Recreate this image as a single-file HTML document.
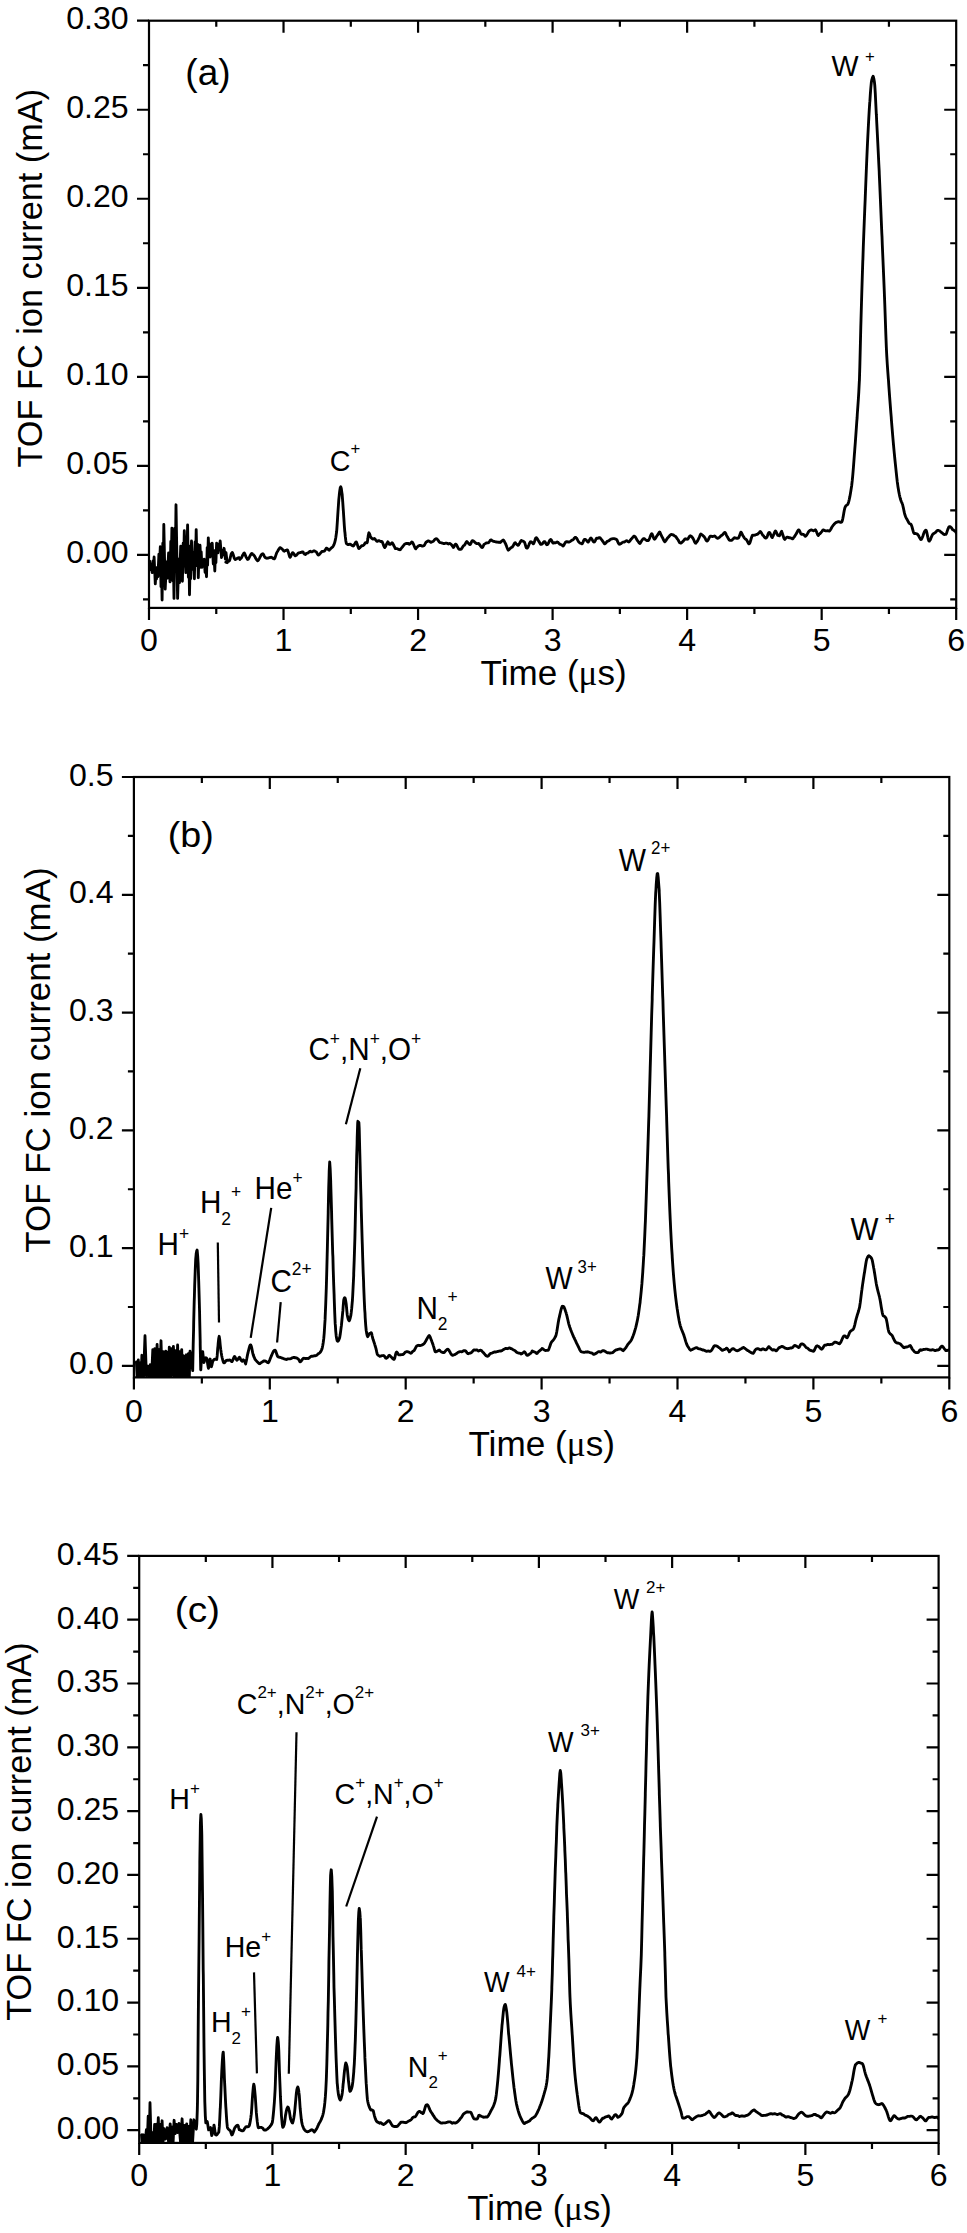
<!DOCTYPE html>
<html lang="en"><head><meta charset="utf-8"><title>TOF FC ion current</title>
<style>html,body{margin:0;padding:0;background:#fff;overflow:hidden}svg{display:block}text{white-space:pre}</style>
</head><body>
<svg width="967" height="2233" viewBox="0 0 967 2233" font-family='"Liberation Sans", sans-serif' fill="#000">
<rect width="967" height="2233" fill="#fff"/>
<g id="panel-a">
<rect x="149.00" y="20.70" width="807.20" height="587.20" fill="none" stroke="#000" stroke-width="2.20"/>
<path d="M149.00,607.90 v12.00 M216.27,607.90 v6.00 M216.27,20.70 v6.00 M283.53,607.90 v12.00 M283.53,20.70 v12.00 M350.80,607.90 v6.00 M350.80,20.70 v6.00 M418.07,607.90 v12.00 M418.07,20.70 v12.00 M485.33,607.90 v6.00 M485.33,20.70 v6.00 M552.60,607.90 v12.00 M552.60,20.70 v12.00 M619.87,607.90 v6.00 M619.87,20.70 v6.00 M687.13,607.90 v12.00 M687.13,20.70 v12.00 M754.40,607.90 v6.00 M754.40,20.70 v6.00 M821.67,607.90 v12.00 M821.67,20.70 v12.00 M888.93,607.90 v6.00 M888.93,20.70 v6.00 M956.20,607.90 v12.00 M149.00,599.36 h-6.00 M956.20,599.36 h-6.00 M149.00,554.85 h-12.00 M956.20,554.85 h-12.00 M149.00,510.34 h-6.00 M956.20,510.34 h-6.00 M149.00,465.83 h-12.00 M956.20,465.83 h-12.00 M149.00,421.31 h-6.00 M956.20,421.31 h-6.00 M149.00,376.80 h-12.00 M956.20,376.80 h-12.00 M149.00,332.29 h-6.00 M956.20,332.29 h-6.00 M149.00,287.78 h-12.00 M956.20,287.78 h-12.00 M149.00,243.26 h-6.00 M956.20,243.26 h-6.00 M149.00,198.75 h-12.00 M956.20,198.75 h-12.00 M149.00,154.24 h-6.00 M956.20,154.24 h-6.00 M149.00,109.73 h-12.00 M956.20,109.73 h-12.00 M149.00,65.21 h-6.00 M956.20,65.21 h-6.00 M149.00,20.70 h-12.00" stroke="#000" stroke-width="2.20" fill="none"/>
<text transform="translate(128.7,563.4) scale(1.010,1)" font-size="31.8px" text-anchor="end">0.00</text>
<text transform="translate(128.7,474.3) scale(1.010,1)" font-size="31.8px" text-anchor="end">0.05</text>
<text transform="translate(128.7,385.3) scale(1.010,1)" font-size="31.8px" text-anchor="end">0.10</text>
<text transform="translate(128.7,296.3) scale(1.010,1)" font-size="31.8px" text-anchor="end">0.15</text>
<text transform="translate(128.7,207.2) scale(1.010,1)" font-size="31.8px" text-anchor="end">0.20</text>
<text transform="translate(128.7,118.2) scale(1.010,1)" font-size="31.8px" text-anchor="end">0.25</text>
<text transform="translate(128.7,29.2) scale(1.010,1)" font-size="31.8px" text-anchor="end">0.30</text>
<text transform="translate(149.0,651.2) scale(1.010,1)" font-size="31.8px" text-anchor="middle">0</text>
<text transform="translate(283.5,651.2) scale(1.010,1)" font-size="31.8px" text-anchor="middle">1</text>
<text transform="translate(418.1,651.2) scale(1.010,1)" font-size="31.8px" text-anchor="middle">2</text>
<text transform="translate(552.6,651.2) scale(1.010,1)" font-size="31.8px" text-anchor="middle">3</text>
<text transform="translate(687.1,651.2) scale(1.010,1)" font-size="31.8px" text-anchor="middle">4</text>
<text transform="translate(821.7,651.2) scale(1.010,1)" font-size="31.8px" text-anchor="middle">5</text>
<text transform="translate(956.2,651.2) scale(1.010,1)" font-size="31.8px" text-anchor="middle">6</text>
<text transform="translate(553.6,684.5) scale(1.0044,1)" font-size="34.9px" text-anchor="middle">Time (<tspan font-family="'Liberation Serif', 'DejaVu Serif', serif">μ</tspan>s)</text>
<text transform="translate(42.2,467.6) rotate(-90)" font-size="35.5px" text-anchor="start" textLength="378.8" lengthAdjust="spacingAndGlyphs">TOF FC ion current (mA)</text>
<clipPath id="clipa"><rect x="149.00" y="20.70" width="807.20" height="587.20"/></clipPath>
<path clip-path="url(#clipa)" d="M149.7,561.2 L150.7,569.7 L151.3,564.6 L152.2,572.6 L153.0,560.9 L153.4,567.9 L154.1,557.0 L155.3,583.9 L156.1,571.5 L156.5,579.0 L157.2,567.4 L157.9,576.7 L158.9,554.2 L159.4,567.7 L160.3,546.7 L161.0,586.6 L161.4,562.7 L162.1,600.0 L162.8,543.3 L163.2,577.3 L163.8,524.5 L165.2,589.1 L166.5,562.0 L167.3,578.2 L168.6,552.9 L170.0,581.9 L170.8,541.5 L171.2,565.7 L171.9,528.1 L172.7,580.8 L173.2,549.2 L174.0,598.4 L174.8,528.2 L175.2,570.3 L176.0,504.8 L177.6,598.4 L178.8,559.2 L179.5,582.7 L180.7,546.2 L181.4,572.6 L181.8,556.7 L182.4,581.3 L183.2,543.3 L183.6,566.1 L184.3,530.7 L185.8,572.6 L186.6,536.9 L186.9,558.3 L187.6,525.0 L188.4,577.3 L188.8,545.9 L189.5,594.8 L190.3,554.5 L190.7,578.7 L191.5,541.0 L192.7,569.3 L193.3,552.3 L194.4,578.8 L195.1,541.9 L195.5,564.0 L196.2,529.6 L197.0,565.7 L197.5,544.1 L198.3,577.7 L199.0,553.3 L199.3,568.0 L200.0,545.2 L200.8,561.8 L201.2,551.8 L201.9,567.4 L202.8,561.2 L203.3,564.9 L204.2,559.1 L205.1,572.3 L205.6,564.4 L206.5,576.7 L207.2,547.6 L207.6,565.1 L208.3,537.9 L209.0,552.3 L209.4,543.7 L210.1,557.0 L211.0,546.6 L211.4,552.9 L212.2,543.1 L213.3,564.0 L213.8,551.5 L214.8,571.0 L215.5,550.1 L215.9,562.6 L216.6,543.1 L217.9,552.9 L218.8,544.0 L219.3,549.3 L220.2,541.0 L221.5,557.6 L222.6,550.6 L223.1,554.8 L224.1,548.3 L225.4,559.1 L226.0,552.6 L227.2,562.7 L225.8,562.2 L226.3,561.9 L226.8,561.6 L227.3,561.2 L227.8,561.1 L228.3,561.0 L228.8,561.1 L228.9,561.2 L229.3,561.1 L229.8,559.8 L230.3,557.7 L230.8,555.5 L231.3,553.7 L231.8,552.9 L232.0,552.7 L232.3,552.5 L232.8,553.5 L233.3,555.0 L233.8,556.7 L234.3,558.3 L234.8,559.1 L235.1,559.4 L235.3,559.5 L235.8,559.4 L236.3,559.1 L236.8,558.7 L237.3,558.3 L237.8,558.0 L238.3,557.8 L238.8,557.7 L239.3,557.7 L239.3,557.6 L239.8,559.5 L240.0,559.4 L240.3,558.8 L240.8,558.5 L241.3,558.0 L241.8,557.1 L242.3,556.0 L242.8,555.0 L243.3,554.1 L243.8,553.2 L244.1,552.9 L244.3,552.9 L244.8,553.9 L245.3,555.1 L245.8,556.4 L246.3,557.5 L246.8,558.2 L247.2,558.7 L247.3,559.3 L247.8,559.5 L248.3,559.1 L248.8,558.4 L249.3,557.4 L249.8,556.4 L250.3,555.4 L250.8,554.5 L251.3,553.8 L251.8,553.5 L252.3,553.8 L252.4,554.2 L252.8,554.4 L253.3,554.7 L253.8,555.1 L254.3,555.8 L254.8,556.6 L255.3,557.5 L255.8,558.5 L256.3,559.3 L256.8,560.1 L257.3,560.6 L257.6,560.8 L257.8,560.8 L258.3,560.3 L258.8,559.5 L259.3,558.6 L259.8,557.6 L260.3,556.6 L260.8,555.7 L261.3,554.8 L261.8,554.2 L262.3,553.9 L262.8,553.8 L262.8,553.8 L263.3,554.1 L263.8,555.0 L264.3,556.1 L264.8,557.1 L265.3,557.7 L265.8,557.6 L265.9,557.9 L266.3,558.1 L266.8,558.3 L267.3,558.2 L267.8,558.1 L268.3,558.0 L268.8,557.8 L269.3,557.7 L269.8,557.6 L270.3,557.4 L270.8,557.3 L271.0,557.2 L271.3,557.3 L271.8,557.5 L272.3,557.8 L272.8,558.2 L273.3,558.6 L273.8,558.8 L274.1,558.8 L274.3,558.8 L274.8,558.1 L275.3,556.9 L275.8,555.4 L276.3,553.9 L276.8,552.6 L277.2,551.9 L277.3,551.7 L277.8,550.9 L278.3,550.0 L278.8,549.2 L279.3,548.5 L279.8,547.8 L280.3,547.6 L280.3,547.7 L280.8,548.0 L281.3,548.4 L281.8,548.8 L282.3,549.3 L282.8,549.8 L283.3,550.4 L283.8,551.0 L284.3,551.2 L284.5,551.1 L284.8,550.8 L285.3,550.6 L285.8,550.4 L286.3,550.2 L286.8,550.0 L287.3,549.9 L287.6,550.1 L287.8,550.7 L288.3,552.1 L288.8,553.9 L289.3,555.7 L289.8,557.0 L290.1,557.3 L290.3,557.1 L290.8,556.2 L291.3,555.0 L291.8,553.9 L292.3,553.0 L292.7,552.6 L292.8,552.6 L293.3,553.0 L293.8,553.8 L294.3,554.7 L294.8,555.4 L295.3,555.8 L295.4,555.8 L295.8,555.6 L296.3,555.3 L296.8,554.7 L297.3,554.2 L297.8,553.6 L298.3,553.1 L298.8,552.9 L298.9,552.8 L299.3,552.8 L299.8,552.7 L300.3,552.6 L300.8,552.5 L301.3,552.2 L301.8,552.0 L302.3,551.8 L302.8,551.8 L303.1,552.1 L303.3,552.6 L303.8,553.3 L304.3,553.9 L304.8,554.3 L305.3,554.5 L305.8,554.2 L306.2,553.7 L306.3,553.4 L306.8,553.3 L307.3,553.2 L307.8,553.1 L308.3,552.8 L308.8,552.3 L309.3,551.8 L309.8,551.4 L310.3,551.3 L310.3,551.6 L310.8,551.8 L311.3,551.9 L311.8,551.9 L312.3,551.7 L312.8,551.4 L313.3,551.1 L313.8,550.9 L314.3,550.9 L314.8,551.1 L315.3,551.4 L315.5,551.6 L315.8,551.6 L316.3,551.9 L316.8,552.8 L317.3,553.7 L317.8,554.5 L318.2,554.8 L318.3,555.0 L318.8,554.9 L319.3,554.5 L319.8,553.9 L320.3,553.3 L320.8,552.7 L321.3,552.2 L321.7,551.9 L321.8,551.6 L322.3,551.4 L322.8,551.3 L323.3,551.3 L323.8,551.3 L324.3,551.1 L324.8,550.7 L324.8,550.5 L325.3,549.9 L325.8,549.0 L326.3,548.2 L326.8,548.1 L326.9,548.3 L327.3,548.5 L327.8,549.0 L328.3,549.6 L328.8,550.1 L329.3,550.2 L329.3,549.8 L329.8,549.5 L330.3,549.1 L330.8,548.6 L331.3,548.1 L331.8,547.6 L332.0,547.5 L332.3,547.2 L332.8,546.7 L333.3,545.9 L333.8,545.0 L334.3,543.7 L334.7,542.6 L334.8,542.2 L335.3,540.2 L335.8,537.5 L336.3,534.0 L336.6,532.0 L336.8,529.6 L337.3,522.4 L337.8,514.3 L338.0,511.4 L338.3,507.0 L338.8,499.7 L339.3,494.8 L339.3,494.4 L339.8,490.4 L340.3,487.5 L340.7,487.1 L340.8,486.8 L341.3,488.5 L341.8,492.1 L342.2,494.8 L342.3,496.3 L342.8,502.8 L343.3,510.2 L343.4,511.4 L343.8,517.7 L344.3,525.5 L344.8,531.8 L344.9,532.0 L345.3,536.5 L345.8,540.7 L346.3,543.2 L346.5,543.6 L346.8,543.9 L347.3,544.2 L347.8,544.5 L348.3,544.6 L348.8,544.5 L349.3,544.4 L349.6,544.3 L349.8,544.1 L350.3,544.1 L350.8,544.4 L351.3,544.9 L351.8,545.3 L352.3,545.4 L352.7,545.5 L352.8,545.9 L353.3,546.0 L353.8,545.5 L354.3,544.7 L354.8,543.7 L355.3,542.9 L355.8,542.2 L356.2,541.9 L356.3,541.9 L356.8,543.0 L357.3,544.4 L357.8,546.1 L358.3,547.5 L358.8,548.5 L358.9,548.5 L359.3,548.2 L359.8,547.8 L360.3,547.2 L360.8,546.7 L361.3,546.1 L361.8,545.7 L362.0,545.7 L362.3,545.8 L362.8,545.7 L363.3,545.4 L363.8,545.0 L364.3,544.3 L364.8,543.6 L365.1,543.0 L365.3,542.7 L365.8,542.7 L366.3,542.8 L366.8,542.9 L367.2,542.5 L367.3,542.2 L367.8,539.1 L368.3,535.2 L368.8,533.0 L368.9,532.8 L369.3,533.3 L369.8,534.6 L370.3,536.0 L370.8,537.3 L371.3,537.8 L371.3,537.9 L371.8,538.3 L372.3,538.8 L372.8,539.1 L373.3,539.0 L373.8,538.8 L374.3,538.6 L374.4,538.4 L374.8,538.8 L375.3,539.4 L375.8,540.1 L376.3,540.7 L376.8,541.2 L377.3,541.4 L377.5,541.2 L377.8,540.9 L378.3,540.6 L378.8,540.6 L379.3,540.8 L379.8,541.1 L380.3,541.4 L380.8,541.5 L381.3,541.5 L381.7,541.4 L381.8,541.4 L382.3,542.0 L382.8,543.2 L383.3,544.5 L383.8,545.9 L384.3,547.0 L384.8,547.6 L384.8,547.5 L385.3,546.8 L385.8,545.8 L386.3,544.7 L386.8,543.6 L387.3,542.7 L387.8,542.1 L387.9,541.8 L388.3,542.3 L388.8,543.4 L389.3,544.3 L389.8,544.4 L389.9,544.3 L390.3,544.4 L390.8,544.1 L391.3,543.5 L391.8,542.9 L392.0,542.8 L392.3,542.9 L392.8,543.6 L393.3,544.5 L393.8,545.5 L394.3,546.5 L394.8,547.4 L395.1,548.1 L395.3,548.5 L395.8,548.6 L396.3,548.6 L396.8,548.6 L397.3,548.8 L397.8,549.0 L398.3,549.3 L398.8,549.4 L399.3,549.6 L399.8,549.8 L400.3,549.7 L400.3,549.4 L400.8,548.9 L401.3,548.3 L401.8,547.7 L402.3,547.1 L402.8,546.5 L403.3,545.8 L403.8,545.2 L404.3,544.6 L404.8,544.1 L405.3,543.8 L405.5,543.6 L405.8,543.6 L406.3,543.5 L406.8,543.5 L407.3,543.4 L407.8,543.4 L408.3,543.5 L408.6,543.7 L408.8,544.1 L409.3,544.2 L409.8,543.9 L410.3,543.4 L410.8,542.9 L411.3,542.4 L411.7,542.1 L411.8,541.9 L412.3,542.2 L412.8,542.9 L413.3,543.9 L413.8,545.0 L414.3,546.2 L414.8,547.4 L415.3,548.4 L415.8,548.8 L415.8,548.5 L416.3,548.0 L416.8,547.4 L417.3,546.9 L417.8,546.4 L418.3,546.0 L418.8,545.7 L419.3,545.5 L419.8,545.4 L419.9,545.4 L420.3,545.4 L420.8,545.5 L421.3,545.8 L421.8,546.0 L422.3,546.1 L422.8,546.0 L423.0,545.9 L423.3,545.9 L423.8,545.7 L424.3,545.2 L424.8,544.4 L425.3,543.4 L425.8,542.6 L426.3,541.9 L426.8,541.6 L427.2,541.5 L427.3,541.3 L427.8,541.1 L428.3,540.9 L428.8,541.0 L429.3,541.2 L429.8,541.6 L430.3,542.0 L430.8,542.3 L431.3,542.3 L431.3,542.1 L431.8,541.9 L432.3,541.7 L432.8,541.5 L433.3,541.2 L433.8,540.7 L434.3,540.1 L434.8,539.6 L435.3,539.1 L435.8,538.8 L436.3,538.7 L436.5,538.8 L436.8,538.9 L437.3,539.3 L437.8,539.9 L438.3,540.6 L438.8,541.4 L439.3,542.0 L439.8,542.5 L440.0,542.5 L440.3,542.6 L440.8,542.7 L441.3,542.8 L441.8,543.0 L442.3,543.1 L442.8,543.3 L443.3,543.4 L443.8,543.6 L444.1,543.6 L444.3,543.6 L444.8,543.5 L445.3,543.3 L445.8,543.1 L446.3,543.1 L446.8,543.2 L447.3,543.4 L447.8,543.8 L448.3,544.0 L448.3,543.9 L448.8,543.7 L449.3,543.6 L449.8,543.5 L450.3,543.8 L450.8,544.2 L451.3,544.6 L451.4,544.7 L451.8,545.2 L452.3,545.9 L452.8,546.6 L453.3,547.2 L453.4,547.5 L453.8,547.1 L454.3,546.0 L454.8,544.9 L455.3,544.3 L455.5,544.2 L455.8,544.1 L456.3,544.5 L456.8,545.3 L457.3,546.3 L457.8,547.4 L458.3,548.3 L458.8,549.0 L459.3,549.3 L459.6,549.3 L459.8,549.4 L460.3,549.4 L460.8,549.3 L461.3,549.0 L461.8,548.4 L462.3,547.6 L462.8,546.8 L463.3,546.0 L463.8,545.5 L463.8,545.5 L464.3,545.3 L464.8,544.7 L465.3,543.8 L465.8,542.9 L466.3,542.0 L466.8,541.5 L466.9,541.6 L467.3,542.0 L467.8,542.6 L468.3,543.2 L468.8,543.8 L469.3,544.3 L469.8,544.6 L470.0,544.6 L470.3,544.4 L470.8,543.6 L471.3,542.4 L471.8,541.3 L472.3,540.6 L472.7,540.6 L472.8,540.9 L473.3,541.0 L473.8,541.3 L474.3,541.7 L474.8,542.2 L475.3,542.7 L475.8,543.1 L476.2,543.3 L476.3,543.4 L476.8,543.6 L477.3,543.6 L477.8,543.6 L478.3,543.5 L478.8,543.6 L479.3,544.1 L479.3,544.6 L479.8,545.1 L480.3,545.6 L480.8,546.3 L481.3,546.9 L481.8,547.4 L482.3,547.5 L482.4,547.4 L482.8,547.0 L483.3,545.9 L483.8,544.7 L484.3,544.1 L484.5,544.1 L484.8,543.9 L485.3,543.6 L485.8,543.3 L486.3,543.0 L486.8,542.9 L487.3,542.9 L487.8,542.9 L488.3,542.7 L488.6,542.6 L488.8,542.3 L489.3,541.7 L489.8,541.0 L490.3,540.2 L490.8,539.9 L491.3,540.0 L491.3,540.3 L491.8,540.5 L492.3,540.8 L492.8,541.1 L493.3,541.3 L493.8,541.4 L494.3,541.5 L494.8,541.6 L494.8,541.6 L495.3,541.8 L495.8,541.9 L496.3,542.0 L496.8,542.0 L497.3,542.1 L497.8,542.2 L498.3,542.2 L498.8,542.2 L499.3,542.2 L499.8,542.3 L500.0,542.5 L500.3,542.5 L500.8,542.1 L501.3,541.6 L501.8,541.0 L502.3,540.6 L502.8,540.3 L503.1,540.2 L503.3,540.0 L503.8,540.5 L504.3,541.3 L504.8,542.3 L505.3,543.3 L505.8,544.2 L505.8,544.4 L506.3,545.6 L506.8,547.0 L507.3,548.3 L507.8,549.5 L508.3,550.2 L508.3,550.1 L508.8,549.8 L509.3,549.4 L509.8,548.8 L510.3,548.3 L510.8,547.9 L511.3,547.5 L511.8,547.1 L512.3,546.8 L512.4,546.9 L512.8,546.4 L513.3,545.5 L513.8,544.5 L514.3,543.6 L514.8,542.9 L515.3,542.7 L515.5,543.1 L515.8,543.6 L516.3,544.0 L516.8,544.5 L517.3,544.9 L517.8,545.2 L518.3,545.2 L518.6,544.9 L518.8,544.4 L519.3,543.7 L519.8,542.9 L520.3,541.9 L520.8,541.1 L521.3,540.5 L521.7,540.6 L521.8,540.9 L522.3,541.0 L522.8,541.1 L523.3,541.3 L523.8,541.6 L524.3,542.0 L524.4,542.1 L524.8,543.0 L525.3,544.6 L525.8,546.4 L526.3,547.8 L526.8,548.1 L526.9,548.1 L527.3,548.0 L527.8,547.4 L528.3,546.3 L528.8,545.1 L529.3,543.8 L529.8,542.7 L530.3,541.9 L530.8,541.7 L531.0,541.8 L531.3,541.9 L531.8,542.2 L532.3,542.8 L532.8,543.4 L533.3,543.8 L533.5,543.8 L533.8,543.3 L534.3,542.1 L534.8,540.6 L535.3,539.0 L535.8,537.9 L536.2,537.7 L536.3,537.7 L536.8,538.1 L537.3,538.8 L537.8,539.7 L538.3,540.6 L538.8,541.4 L538.9,541.3 L539.3,542.0 L539.8,543.0 L540.3,543.9 L540.8,544.4 L541.3,544.4 L541.3,544.3 L541.8,544.2 L542.3,543.9 L542.8,543.2 L543.3,542.4 L543.8,541.8 L544.3,541.6 L544.4,541.6 L544.8,541.7 L545.3,542.4 L545.8,543.3 L546.3,544.2 L546.8,544.7 L547.1,544.6 L547.3,544.6 L547.8,544.3 L548.3,543.4 L548.8,542.3 L549.3,541.2 L549.8,540.3 L550.3,539.8 L550.7,539.6 L550.8,539.4 L551.3,539.9 L551.8,540.9 L552.3,542.0 L552.8,542.9 L553.3,543.1 L553.3,542.9 L553.8,542.8 L554.3,542.7 L554.8,542.7 L555.3,542.7 L555.8,542.7 L556.3,542.5 L556.8,542.3 L556.9,542.1 L557.3,542.0 L557.8,542.2 L558.3,542.6 L558.8,543.2 L559.3,543.7 L559.8,544.2 L560.0,544.2 L560.3,544.3 L560.8,544.5 L561.3,544.7 L561.8,545.0 L562.3,545.4 L562.8,545.8 L563.1,546.0 L563.3,545.9 L563.8,545.2 L564.3,544.3 L564.8,543.4 L565.3,542.6 L565.8,541.9 L566.3,541.6 L566.6,541.6 L566.8,541.6 L567.3,541.7 L567.8,541.9 L568.3,542.1 L568.8,542.1 L569.3,542.1 L569.3,541.9 L569.8,541.7 L570.3,541.4 L570.8,541.1 L571.3,540.7 L571.8,540.3 L572.3,539.9 L572.4,540.1 L572.8,539.9 L573.3,539.5 L573.8,538.9 L574.3,538.2 L574.8,537.6 L575.3,537.3 L575.8,537.3 L575.9,537.5 L576.3,537.9 L576.8,538.5 L577.3,539.4 L577.8,540.4 L578.3,541.3 L578.8,542.0 L579.0,542.1 L579.3,542.5 L579.8,542.9 L580.3,543.2 L580.8,543.3 L581.3,543.3 L581.7,543.6 L581.8,543.9 L582.3,543.7 L582.8,542.7 L583.3,541.4 L583.8,540.2 L584.3,539.4 L584.8,539.4 L584.8,539.3 L585.3,539.4 L585.8,539.7 L586.3,540.2 L586.8,540.8 L587.3,541.4 L587.8,541.9 L587.9,542.1 L588.3,542.0 L588.8,541.2 L589.3,540.3 L589.8,539.4 L590.3,538.6 L590.8,538.1 L591.0,538.0 L591.3,538.3 L591.8,539.0 L592.3,539.8 L592.8,540.8 L593.3,541.6 L593.8,542.0 L594.1,542.1 L594.3,542.0 L594.8,541.5 L595.3,540.6 L595.8,539.5 L596.3,538.6 L596.8,538.1 L597.2,538.3 L597.3,538.4 L597.8,538.4 L598.3,538.1 L598.8,537.8 L599.3,537.6 L599.8,537.7 L600.3,538.0 L600.3,538.2 L600.8,538.7 L601.3,539.3 L601.8,539.9 L602.3,540.6 L602.8,541.3 L603.3,542.0 L603.8,542.8 L604.3,543.5 L604.4,543.8 L604.8,543.9 L605.3,543.6 L605.8,543.1 L606.3,542.4 L606.8,541.8 L607.3,541.3 L607.5,541.2 L607.8,541.2 L608.3,541.1 L608.8,540.8 L609.3,540.4 L609.8,539.9 L610.3,539.5 L610.8,539.2 L611.3,538.9 L611.7,538.9 L611.8,538.9 L612.3,538.8 L612.8,538.7 L613.3,538.6 L613.8,538.6 L614.3,538.7 L614.8,538.8 L615.3,539.0 L615.8,539.1 L615.8,539.2 L616.3,539.2 L616.8,539.7 L617.3,540.7 L617.8,541.9 L618.3,543.0 L618.8,543.9 L619.3,544.2 L619.5,544.1 L619.8,544.1 L620.3,544.0 L620.8,543.8 L621.3,543.3 L621.8,542.9 L622.3,542.5 L622.8,542.3 L623.0,542.2 L623.3,542.1 L623.8,542.1 L624.3,542.0 L624.8,541.7 L625.3,541.4 L625.8,541.0 L626.3,540.8 L626.8,540.7 L627.3,541.0 L627.8,541.4 L628.3,541.8 L628.8,542.0 L629.2,541.8 L629.3,541.5 L629.8,541.0 L630.3,540.4 L630.8,539.6 L631.3,539.0 L631.3,539.0 L631.8,538.5 L632.3,537.9 L632.8,537.3 L633.3,536.7 L633.8,536.2 L634.3,536.1 L634.4,536.2 L634.8,536.4 L635.3,537.0 L635.8,537.7 L636.3,538.6 L636.8,539.6 L637.3,540.4 L637.5,540.6 L637.8,541.0 L638.3,541.7 L638.8,542.4 L639.3,543.1 L639.8,543.6 L640.0,543.5 L640.3,543.1 L640.8,542.3 L641.3,541.4 L641.8,540.5 L642.3,539.8 L642.8,539.2 L643.1,538.9 L643.3,538.7 L643.8,538.6 L644.3,538.7 L644.8,539.1 L645.3,539.5 L645.8,539.9 L646.3,540.2 L646.8,540.5 L647.3,540.6 L647.8,540.6 L648.3,540.5 L648.3,540.4 L648.8,539.9 L649.3,538.9 L649.8,537.7 L650.3,536.3 L650.8,535.1 L651.3,534.1 L651.8,533.7 L651.8,533.7 L652.3,534.4 L652.8,535.7 L653.3,537.1 L653.8,538.4 L654.3,539.0 L654.5,539.2 L654.8,539.1 L655.3,538.6 L655.8,537.8 L656.3,536.9 L656.8,536.0 L657.3,535.3 L657.6,535.0 L657.8,534.6 L658.3,533.9 L658.8,533.0 L659.3,532.2 L659.6,531.9 L659.8,532.1 L660.3,533.2 L660.8,534.3 L661.3,535.4 L661.8,536.5 L662.3,537.4 L662.3,537.3 L662.8,538.2 L663.3,539.3 L663.8,540.4 L664.3,541.3 L664.8,541.8 L664.8,541.7 L665.3,541.3 L665.8,540.7 L666.3,539.9 L666.8,539.1 L667.3,538.4 L667.8,537.7 L667.9,537.7 L668.3,537.3 L668.8,536.8 L669.3,536.1 L669.8,535.5 L670.3,535.0 L670.8,534.6 L671.3,534.5 L671.8,534.6 L672.1,534.7 L672.3,534.7 L672.8,534.7 L673.3,534.9 L673.8,535.3 L674.3,535.7 L674.8,536.0 L675.2,536.1 L675.3,536.1 L675.8,536.7 L676.3,537.4 L676.8,538.1 L677.3,538.8 L677.8,539.5 L678.3,540.2 L678.3,540.3 L678.8,541.2 L679.3,542.1 L679.8,542.8 L680.3,543.0 L680.3,543.1 L680.8,543.1 L681.3,542.9 L681.8,542.6 L682.3,542.1 L682.8,541.6 L683.3,541.0 L683.8,540.4 L684.3,539.8 L684.5,539.4 L684.8,539.0 L685.3,538.8 L685.8,538.9 L686.3,539.1 L686.8,539.2 L687.3,539.1 L687.6,539.2 L687.8,539.1 L688.3,538.4 L688.8,537.6 L689.3,536.7 L689.8,536.0 L690.3,535.8 L690.7,535.9 L690.8,536.0 L691.3,536.2 L691.8,536.7 L692.3,537.4 L692.8,538.2 L693.3,538.9 L693.4,539.0 L693.8,540.0 L694.3,541.2 L694.8,542.3 L695.3,543.1 L695.8,543.3 L695.8,543.0 L696.3,542.6 L696.8,542.1 L697.3,541.3 L697.8,540.3 L698.3,539.3 L698.8,538.3 L698.9,538.1 L699.3,537.3 L699.8,536.0 L700.3,534.7 L700.8,534.0 L701.0,534.1 L701.3,534.3 L701.8,534.6 L702.3,535.0 L702.8,535.4 L703.3,535.9 L703.8,536.4 L704.1,536.6 L704.3,536.9 L704.8,537.7 L705.3,538.7 L705.8,539.7 L706.3,540.6 L706.8,541.1 L707.2,541.1 L707.3,540.9 L707.8,540.5 L708.3,539.6 L708.8,538.6 L709.3,537.6 L709.8,536.8 L710.3,536.5 L710.3,536.2 L710.8,536.1 L711.3,536.2 L711.8,536.4 L712.3,536.5 L712.8,536.5 L713.3,536.3 L713.8,536.2 L714.3,536.0 L714.5,535.9 L714.8,536.1 L715.3,536.6 L715.8,537.1 L716.3,537.5 L716.8,537.9 L717.3,538.2 L717.6,538.3 L717.8,538.2 L718.3,538.1 L718.8,537.7 L719.3,537.4 L719.8,536.9 L720.3,536.4 L720.8,535.9 L721.3,535.5 L721.7,535.3 L721.8,535.3 L722.3,534.9 L722.8,534.4 L723.3,533.8 L723.8,533.3 L724.3,532.8 L724.8,532.5 L724.8,532.3 L725.3,532.8 L725.8,533.7 L726.3,534.8 L726.8,535.8 L727.3,536.8 L727.8,537.6 L727.9,537.8 L728.3,538.6 L728.8,539.4 L729.3,540.0 L729.8,540.3 L730.3,540.4 L730.8,540.4 L731.0,540.4 L731.3,540.4 L731.8,540.2 L732.3,539.7 L732.8,539.2 L733.3,538.7 L733.8,538.3 L734.1,537.9 L734.3,537.7 L734.8,537.8 L735.3,538.0 L735.8,538.1 L736.3,538.2 L736.8,538.2 L737.3,538.2 L737.8,538.2 L738.2,538.1 L738.3,538.1 L738.8,537.5 L739.3,536.4 L739.8,534.9 L740.3,533.6 L740.8,532.4 L740.9,532.1 L741.3,532.5 L741.8,533.5 L742.3,534.5 L742.8,535.5 L743.3,536.2 L743.4,536.4 L743.8,537.1 L744.3,537.8 L744.8,538.4 L745.3,538.9 L745.8,539.3 L746.3,539.6 L746.5,539.7 L746.8,540.2 L747.3,541.1 L747.8,542.2 L748.3,543.2 L748.8,543.8 L749.2,543.8 L749.3,543.6 L749.8,543.0 L750.3,541.7 L750.8,540.0 L751.3,538.2 L751.8,536.6 L752.3,535.5 L752.7,535.2 L752.8,535.3 L753.3,535.3 L753.8,535.2 L754.3,535.2 L754.8,535.1 L755.3,535.0 L755.8,534.8 L756.3,534.6 L756.8,534.4 L756.9,534.4 L757.3,534.3 L757.8,534.0 L758.3,533.4 L758.8,532.9 L759.3,532.4 L759.8,531.9 L760.0,531.6 L760.3,531.5 L760.8,531.9 L761.3,532.7 L761.8,533.5 L762.3,534.4 L762.8,535.2 L763.1,535.4 L763.3,535.6 L763.8,536.2 L764.3,537.0 L764.8,537.6 L765.3,538.1 L765.8,538.1 L766.2,537.8 L766.3,537.7 L766.8,537.4 L767.3,536.2 L767.8,534.8 L768.3,533.5 L768.8,532.6 L769.3,532.5 L769.3,532.5 L769.8,532.8 L770.3,533.7 L770.8,534.9 L771.3,536.1 L771.8,537.2 L772.3,537.6 L772.4,537.1 L772.8,536.5 L773.3,535.6 L773.8,534.3 L774.3,533.0 L774.8,531.8 L775.3,531.1 L775.5,531.0 L775.8,531.3 L776.3,532.2 L776.8,533.4 L777.3,534.6 L777.8,535.4 L778.3,535.3 L778.6,535.2 L778.8,535.7 L779.3,535.8 L779.8,535.1 L780.3,534.1 L780.8,532.9 L781.3,531.7 L781.7,531.3 L781.8,531.7 L782.3,533.2 L782.8,534.7 L783.3,536.3 L783.8,537.9 L784.3,539.0 L784.8,539.4 L784.8,539.3 L785.3,538.8 L785.8,538.3 L786.3,537.7 L786.8,537.3 L787.3,537.1 L787.8,537.1 L788.3,537.4 L788.8,537.6 L788.9,537.7 L789.3,537.7 L789.8,537.7 L790.3,537.8 L790.8,538.0 L791.3,538.3 L791.8,538.6 L792.3,538.9 L792.8,538.8 L793.1,538.5 L793.3,538.0 L793.8,537.4 L794.3,536.8 L794.8,536.1 L795.3,535.2 L795.8,534.4 L796.2,533.9 L796.3,533.7 L796.8,532.8 L797.3,531.7 L797.8,530.8 L798.3,530.1 L798.8,529.9 L798.8,529.9 L799.3,530.3 L799.8,531.3 L800.3,532.5 L800.8,533.6 L801.3,534.2 L801.3,534.1 L801.8,534.2 L802.3,534.2 L802.8,534.2 L803.3,534.4 L803.8,534.7 L804.3,535.1 L804.7,535.5 L804.8,536.0 L805.3,536.3 L805.8,536.0 L806.3,535.5 L806.8,534.8 L807.3,534.0 L807.8,533.1 L808.3,532.2 L808.8,531.5 L809.3,530.9 L809.8,530.4 L810.3,530.1 L810.5,530.1 L810.8,530.0 L811.3,530.0 L811.8,530.0 L812.3,530.2 L812.8,530.5 L813.3,530.7 L813.8,530.7 L814.3,530.5 L814.8,530.3 L815.1,530.0 L815.3,529.8 L815.8,530.3 L816.3,531.3 L816.8,532.6 L817.3,533.8 L817.8,534.9 L818.3,535.4 L818.6,535.1 L818.8,534.6 L819.3,534.1 L819.8,533.8 L820.3,533.4 L820.8,532.8 L821.3,532.2 L821.8,531.6 L822.3,530.9 L822.8,530.2 L823.3,529.9 L823.3,529.8 L823.8,530.0 L824.3,530.2 L824.8,530.6 L825.3,530.8 L825.8,530.9 L826.3,530.9 L826.8,530.8 L827.3,530.7 L827.8,530.7 L828.3,530.8 L828.8,531.0 L829.1,531.1 L829.3,531.1 L829.8,530.7 L830.3,530.0 L830.8,529.2 L831.3,528.3 L831.8,527.3 L832.3,526.5 L832.6,526.1 L832.8,525.8 L833.3,525.2 L833.8,524.6 L834.3,524.0 L834.8,523.5 L835.3,523.0 L835.8,522.6 L836.3,522.4 L836.8,522.2 L837.3,522.1 L837.3,521.9 L837.8,521.8 L838.3,521.7 L838.8,521.7 L839.3,521.8 L839.8,522.1 L840.3,522.3 L840.8,522.4 L841.3,522.2 L841.5,521.8 L841.8,521.8 L842.3,520.7 L842.8,518.6 L843.3,515.9 L843.8,513.0 L844.3,510.3 L844.8,508.1 L845.3,506.8 L845.4,506.6 L845.8,506.0 L846.3,505.4 L846.8,505.1 L847.3,504.8 L847.7,504.4 L847.8,504.3 L848.3,503.1 L848.8,501.4 L849.3,499.3 L849.8,496.9 L850.3,494.2 L850.8,491.2 L851.3,488.0 L851.7,485.5 L851.8,484.5 L852.3,480.2 L852.8,474.8 L853.3,468.8 L853.8,462.3 L854.3,455.7 L854.7,450.6 L854.8,449.2 L855.3,442.6 L855.8,435.7 L856.3,428.6 L856.8,421.3 L857.1,418.0 L857.3,414.0 L857.8,407.1 L858.3,400.0 L858.8,391.9 L859.3,381.9 L859.4,380.7 L859.8,367.2 L860.3,347.3 L860.8,326.8 L861.0,320.1 L861.3,309.2 L861.8,292.3 L862.3,276.1 L862.8,260.9 L862.9,259.6 L863.3,246.8 L863.8,233.6 L864.3,220.8 L864.8,208.4 L865.2,199.0 L865.3,195.9 L865.8,183.3 L866.3,170.8 L866.8,158.7 L867.3,147.4 L867.5,143.2 L867.8,137.1 L868.3,127.2 L868.8,117.8 L869.3,109.2 L869.8,101.7 L869.9,101.2 L870.3,94.7 L870.8,88.0 L871.3,82.8 L871.7,80.3 L871.8,79.9 L872.3,78.1 L872.8,76.9 L873.1,76.2 L873.3,76.5 L873.8,78.5 L874.3,81.3 L874.5,82.6 L874.8,85.6 L875.3,93.7 L875.8,104.0 L876.3,114.2 L876.4,115.2 L876.8,123.6 L877.3,133.2 L877.8,143.1 L878.3,153.3 L878.8,163.7 L879.2,171.1 L879.3,174.4 L879.8,185.6 L880.3,197.2 L880.8,209.1 L881.3,221.1 L881.8,233.0 L882.0,236.3 L882.3,244.7 L882.8,256.2 L883.3,267.9 L883.8,279.6 L884.3,291.8 L884.5,296.9 L884.8,304.7 L885.3,319.0 L885.8,333.4 L886.3,346.4 L886.6,352.7 L886.8,356.4 L887.3,364.5 L887.8,371.6 L888.3,378.4 L888.5,380.7 L888.8,385.4 L889.3,392.3 L889.8,399.1 L890.3,405.7 L890.8,412.1 L891.3,418.0 L891.3,418.5 L891.8,424.8 L892.3,430.9 L892.8,436.9 L893.3,442.7 L893.6,445.9 L893.8,448.2 L894.3,453.4 L894.8,458.5 L895.3,463.4 L895.8,468.1 L895.9,469.2 L896.3,472.8 L896.8,477.6 L897.3,482.0 L897.8,485.5 L897.8,485.7 L898.3,488.8 L898.8,491.7 L899.3,494.3 L899.8,496.6 L900.3,498.5 L900.6,499.5 L900.8,500.2 L901.3,501.5 L901.8,502.6 L902.3,503.8 L902.5,504.2 L902.8,505.5 L903.3,507.6 L903.8,510.0 L904.3,512.4 L904.8,514.5 L905.3,515.8 L905.3,516.0 L905.8,517.1 L906.3,518.1 L906.8,519.0 L907.3,519.9 L907.8,520.9 L908.3,521.8 L908.8,522.7 L909.0,523.0 L909.3,523.4 L909.8,523.7 L910.3,523.8 L910.8,524.2 L911.3,524.9 L911.3,524.9 L911.8,526.2 L912.3,528.0 L912.8,529.9 L913.3,531.7 L913.8,533.0 L914.1,533.4 L914.3,533.5 L914.8,533.5 L915.3,533.5 L915.8,533.6 L916.3,533.7 L916.8,533.9 L917.3,534.1 L917.6,534.3 L917.8,534.6 L918.3,535.3 L918.8,536.1 L919.3,537.1 L919.8,538.0 L920.3,538.9 L920.8,539.5 L921.1,539.6 L921.3,539.4 L921.8,538.6 L922.3,537.5 L922.8,536.2 L923.3,534.7 L923.8,533.3 L924.3,532.0 L924.8,531.1 L925.3,530.6 L925.8,530.5 L925.8,530.2 L926.3,530.6 L926.8,532.4 L927.3,534.7 L927.8,537.2 L928.3,539.4 L928.8,540.9 L929.3,541.1 L929.3,540.8 L929.8,540.5 L930.3,539.8 L930.8,538.6 L931.3,537.3 L931.8,536.1 L932.3,535.0 L932.7,534.4 L932.8,534.3 L933.3,533.8 L933.8,533.5 L934.3,533.2 L934.8,532.9 L935.3,532.6 L935.8,532.0 L936.3,531.5 L936.8,530.9 L937.3,530.5 L937.8,530.4 L938.3,530.4 L938.6,530.4 L938.8,530.5 L939.3,530.7 L939.8,531.1 L940.3,531.5 L940.8,531.9 L941.3,532.3 L941.8,532.7 L942.3,533.1 L942.8,533.6 L943.3,534.1 L943.8,534.4 L944.3,534.5 L944.8,534.4 L945.3,534.3 L945.6,534.4 L945.8,534.4 L946.3,533.7 L946.8,532.4 L947.3,530.9 L947.8,529.4 L948.3,528.2 L948.8,527.3 L949.0,526.9 L949.3,526.7 L949.8,526.6 L950.3,526.8 L950.8,527.1 L951.3,527.7 L951.8,528.4 L952.3,529.1 L952.5,529.5 L952.8,529.6 L953.3,529.9 L953.8,530.3 L954.3,530.7 L954.8,531.1 L955.3,531.6 L955.8,532.1 L956.3,532.8 L956.5,533.1" fill="none" stroke="#000" stroke-width="2.85" stroke-linejoin="round" stroke-linecap="round"/>
<text transform="translate(185.3,84.6) scale(1.02,1)" font-size="36.3px">(a)</text>
<text transform="translate(329.7,470.5) scale(0.970,1)" font-size="29.6px" text-anchor="start"><tspan dy="0.00" font-size="29.6px">C</tspan><tspan dy="-16.60" font-size="17.2px">+</tspan></text>
<text transform="translate(831.5,76.2) scale(0.970,1)" font-size="29.6px" text-anchor="start"><tspan dy="0.00" font-size="29.6px">W</tspan><tspan dx="6.6" dy="-14.20" font-size="17.2px">+</tspan></text>
</g>
<g id="panel-b">
<rect x="133.90" y="777.00" width="815.40" height="600.40" fill="none" stroke="#000" stroke-width="2.20"/>
<path d="M133.90,1377.40 v12.00 M201.85,1377.40 v6.00 M201.85,777.00 v6.00 M269.80,1377.40 v12.00 M269.80,777.00 v12.00 M337.75,1377.40 v6.00 M337.75,777.00 v6.00 M405.70,1377.40 v12.00 M405.70,777.00 v12.00 M473.65,1377.40 v6.00 M473.65,777.00 v6.00 M541.60,1377.40 v12.00 M541.60,777.00 v12.00 M609.55,1377.40 v6.00 M609.55,777.00 v6.00 M677.50,1377.40 v12.00 M677.50,777.00 v12.00 M745.45,1377.40 v6.00 M745.45,777.00 v6.00 M813.40,1377.40 v12.00 M813.40,777.00 v12.00 M881.35,1377.40 v6.00 M881.35,777.00 v6.00 M949.30,1377.40 v12.00 M133.90,1365.90 h-12.00 M949.30,1365.90 h-12.00 M133.90,1307.01 h-6.00 M949.30,1307.01 h-6.00 M133.90,1248.12 h-12.00 M949.30,1248.12 h-12.00 M133.90,1189.23 h-6.00 M949.30,1189.23 h-6.00 M133.90,1130.34 h-12.00 M949.30,1130.34 h-12.00 M133.90,1071.45 h-6.00 M949.30,1071.45 h-6.00 M133.90,1012.56 h-12.00 M949.30,1012.56 h-12.00 M133.90,953.67 h-6.00 M949.30,953.67 h-6.00 M133.90,894.78 h-12.00 M949.30,894.78 h-12.00 M133.90,835.89 h-6.00 M949.30,835.89 h-6.00 M133.90,777.00 h-12.00" stroke="#000" stroke-width="2.20" fill="none"/>
<text transform="translate(113.6,1374.4) scale(1.010,1)" font-size="31.8px" text-anchor="end">0.0</text>
<text transform="translate(113.6,1256.6) scale(1.010,1)" font-size="31.8px" text-anchor="end">0.1</text>
<text transform="translate(113.6,1138.8) scale(1.010,1)" font-size="31.8px" text-anchor="end">0.2</text>
<text transform="translate(113.6,1021.1) scale(1.010,1)" font-size="31.8px" text-anchor="end">0.3</text>
<text transform="translate(113.6,903.3) scale(1.010,1)" font-size="31.8px" text-anchor="end">0.4</text>
<text transform="translate(113.6,785.5) scale(1.010,1)" font-size="31.8px" text-anchor="end">0.5</text>
<text transform="translate(133.9,1422.0) scale(1.010,1)" font-size="31.8px" text-anchor="middle">0</text>
<text transform="translate(269.8,1422.0) scale(1.010,1)" font-size="31.8px" text-anchor="middle">1</text>
<text transform="translate(405.7,1422.0) scale(1.010,1)" font-size="31.8px" text-anchor="middle">2</text>
<text transform="translate(541.6,1422.0) scale(1.010,1)" font-size="31.8px" text-anchor="middle">3</text>
<text transform="translate(677.5,1422.0) scale(1.010,1)" font-size="31.8px" text-anchor="middle">4</text>
<text transform="translate(813.4,1422.0) scale(1.010,1)" font-size="31.8px" text-anchor="middle">5</text>
<text transform="translate(949.3,1422.0) scale(1.010,1)" font-size="31.8px" text-anchor="middle">6</text>
<text transform="translate(541.7,1455.8) scale(1.0028,1)" font-size="35.1px" text-anchor="middle">Time (<tspan font-family="'Liberation Serif', 'DejaVu Serif', serif">μ</tspan>s)</text>
<text transform="translate(50.2,1252.7) rotate(-90)" font-size="35.7px" text-anchor="start" textLength="385.3" lengthAdjust="spacingAndGlyphs">TOF FC ion current (mA)</text>
<clipPath id="clipb"><rect x="133.90" y="777.00" width="815.40" height="600.40"/></clipPath>
<path clip-path="url(#clipb)" d="M136.4,1361.9 L137.3,1381.5 L138.3,1360.0 L139.2,1383.8 L140.1,1363.1 L141.0,1379.8 L141.9,1355.3 L143.4,1379.5 L145.0,1335.7 L146.4,1375.6 L147.8,1366.2 L149.0,1377.4 L150.2,1364.6 L151.5,1379.5 L152.8,1349.6 L153.8,1381.1 L154.8,1348.6 L156.0,1382.2 L157.1,1344.5 L158.0,1378.4 L159.0,1349.6 L160.0,1375.6 L161.0,1340.8 L162.1,1377.6 L163.1,1351.7 L164.4,1383.2 L165.7,1351.2 L166.6,1376.9 L167.5,1352.2 L168.4,1379.1 L169.3,1347.1 L170.3,1383.4 L171.4,1348.6 L172.4,1375.2 L173.4,1346.5 L174.5,1380.4 L175.5,1350.7 L176.5,1383.6 L177.6,1345.0 L178.6,1377.1 L179.6,1351.7 L180.7,1379.9 L181.7,1349.6 L182.7,1383.2 L183.8,1355.8 L185.1,1376.2 L186.4,1354.8 L187.4,1379.7 L188.4,1353.8 L189.2,1381.8 L190.0,1351.2 L192.7,1370.6 L193.2,1344.6 L193.6,1329.3 L193.7,1321.7 L194.2,1301.7 L194.4,1296.2 L194.7,1284.8 L195.2,1271.4 L195.2,1270.9 L195.7,1259.1 L196.1,1254.8 L196.2,1253.5 L196.7,1250.9 L197.1,1250.0 L197.2,1250.5 L197.7,1256.3 L198.1,1263.1 L198.2,1265.7 L198.7,1281.0 L198.9,1287.9 L199.2,1298.3 L199.6,1312.7 L199.7,1318.9 L200.2,1341.7 L200.2,1344.6 L200.7,1369.7 L200.8,1369.8 L201.2,1362.8 L201.7,1353.0 L201.8,1352.4 L202.2,1351.8 L202.7,1351.6 L202.7,1351.7 L203.2,1356.4 L203.7,1361.8 L203.9,1362.5 L204.2,1361.9 L204.7,1359.9 L205.2,1358.0 L205.6,1357.8 L205.7,1357.7 L206.2,1357.9 L206.7,1358.3 L206.8,1358.4 L207.2,1360.2 L207.7,1364.2 L208.2,1367.4 L208.5,1368.4 L208.7,1367.1 L209.2,1363.7 L209.7,1360.2 L210.1,1359.0 L210.2,1359.2 L210.7,1362.8 L211.2,1366.3 L211.4,1366.8 L211.7,1365.9 L212.2,1363.6 L212.7,1361.5 L213.0,1360.9 L213.2,1360.6 L213.7,1359.9 L214.2,1359.4 L214.7,1359.2 L215.1,1359.1 L215.2,1359.1 L215.7,1359.2 L216.2,1359.4 L216.7,1359.4 L216.7,1359.5 L217.2,1355.7 L217.7,1348.4 L218.0,1345.8 L218.2,1343.2 L218.7,1338.6 L219.2,1336.3 L219.2,1336.4 L219.7,1339.5 L220.2,1344.8 L220.6,1348.3 L220.7,1349.2 L221.2,1352.7 L221.7,1355.7 L222.1,1357.5 L222.2,1358.0 L222.7,1359.9 L223.2,1361.6 L223.7,1362.7 L224.2,1362.9 L224.2,1362.9 L224.7,1362.6 L225.2,1361.9 L225.7,1361.0 L226.2,1360.4 L226.2,1360.5 L226.7,1360.3 L227.2,1360.2 L227.7,1360.2 L228.2,1360.2 L228.7,1360.2 L229.2,1360.1 L229.6,1360.0 L229.7,1359.9 L230.2,1360.2 L230.7,1360.7 L231.2,1361.2 L231.7,1361.6 L232.0,1361.6 L232.2,1361.3 L232.7,1360.4 L233.2,1359.1 L233.7,1357.9 L234.2,1356.8 L234.5,1356.4 L234.7,1356.5 L235.2,1357.3 L235.7,1358.3 L236.2,1359.3 L236.7,1360.0 L237.0,1360.2 L237.2,1360.0 L237.7,1359.5 L238.2,1358.8 L238.7,1358.1 L239.2,1357.4 L239.5,1357.2 L239.7,1357.4 L240.2,1358.5 L240.7,1359.5 L241.2,1360.4 L241.7,1360.8 L242.0,1361.0 L242.2,1361.2 L242.7,1360.4 L243.2,1359.8 L243.6,1360.2 L243.7,1360.4 L244.2,1360.4 L244.7,1361.4 L245.2,1362.8 L245.7,1363.9 L245.7,1363.4 L246.2,1361.4 L246.7,1359.1 L247.2,1356.4 L247.7,1353.9 L248.0,1353.0 L248.2,1351.9 L248.7,1349.9 L249.2,1347.9 L249.7,1346.2 L250.2,1345.1 L250.7,1344.9 L250.7,1345.1 L251.2,1345.9 L251.7,1347.9 L252.2,1350.4 L252.7,1352.9 L253.2,1354.8 L253.3,1355.1 L253.7,1356.1 L254.2,1357.4 L254.7,1358.5 L255.2,1359.5 L255.7,1360.2 L255.8,1360.2 L256.2,1360.7 L256.7,1361.2 L257.2,1361.7 L257.7,1362.2 L258.2,1362.7 L258.7,1363.2 L259.2,1363.6 L259.7,1363.7 L260.0,1363.6 L260.2,1363.3 L260.7,1363.0 L261.2,1362.6 L261.7,1362.3 L262.2,1362.0 L262.7,1361.7 L263.2,1361.3 L263.7,1361.0 L264.1,1360.9 L264.2,1360.9 L264.7,1360.9 L265.2,1361.1 L265.7,1361.2 L266.2,1361.5 L266.7,1361.9 L267.2,1362.3 L267.7,1362.6 L268.2,1362.8 L268.2,1362.7 L268.7,1362.2 L269.2,1361.3 L269.7,1360.1 L270.2,1358.8 L270.7,1357.5 L271.2,1356.4 L271.3,1356.1 L271.7,1355.2 L272.2,1354.0 L272.7,1352.8 L273.2,1351.8 L273.7,1350.9 L274.2,1350.4 L274.7,1350.3 L274.9,1350.2 L275.2,1350.3 L275.7,1351.1 L276.2,1352.5 L276.7,1354.0 L277.2,1355.5 L277.7,1356.5 L278.2,1356.9 L278.2,1356.9 L278.7,1357.1 L279.2,1357.2 L279.7,1357.2 L280.2,1357.3 L280.7,1357.5 L281.2,1357.8 L281.7,1358.0 L282.2,1358.1 L282.7,1358.2 L282.7,1358.2 L283.2,1358.5 L283.7,1358.7 L284.2,1358.9 L284.7,1359.0 L285.2,1359.2 L285.7,1359.3 L286.2,1359.5 L286.7,1359.4 L286.8,1359.3 L287.2,1359.1 L287.7,1358.9 L288.2,1358.8 L288.7,1358.8 L289.2,1358.8 L289.7,1358.9 L290.2,1358.8 L290.7,1358.7 L291.0,1358.5 L291.2,1358.3 L291.7,1358.2 L292.2,1357.9 L292.7,1357.7 L293.2,1357.5 L293.7,1357.4 L294.2,1357.4 L294.7,1357.6 L294.7,1357.7 L295.2,1357.7 L295.7,1357.7 L296.2,1357.8 L296.7,1358.0 L297.2,1358.3 L297.7,1358.7 L298.2,1359.1 L298.7,1359.6 L298.8,1359.7 L299.2,1360.3 L299.7,1361.4 L300.0,1361.8 L300.2,1361.9 L300.7,1361.6 L301.2,1361.0 L301.7,1360.3 L302.2,1359.6 L302.7,1358.9 L303.2,1358.4 L303.7,1358.2 L303.8,1358.2 L304.2,1358.3 L304.7,1358.4 L305.2,1358.5 L305.7,1358.5 L306.2,1358.5 L306.7,1358.4 L307.2,1358.4 L307.5,1358.5 L307.7,1358.6 L308.2,1358.6 L308.7,1358.3 L309.2,1357.9 L309.7,1357.4 L310.2,1357.0 L310.7,1356.6 L311.2,1356.3 L311.3,1356.3 L311.7,1356.2 L312.2,1356.2 L312.7,1356.2 L313.2,1356.1 L313.7,1356.0 L314.2,1355.8 L314.7,1355.7 L315.0,1355.7 L315.2,1355.8 L315.7,1355.7 L316.2,1355.5 L316.7,1355.2 L317.2,1354.8 L317.7,1354.3 L318.2,1353.8 L318.7,1353.4 L318.8,1353.4 L319.2,1353.2 L319.7,1352.8 L320.2,1352.3 L320.7,1351.6 L321.2,1350.7 L321.7,1349.6 L321.9,1349.1 L322.2,1348.1 L322.7,1345.8 L323.2,1342.7 L323.7,1338.9 L323.8,1338.2 L324.2,1333.5 L324.7,1325.5 L325.1,1319.4 L325.2,1316.1 L325.7,1304.5 L326.2,1290.7 L326.3,1288.1 L326.7,1273.9 L327.2,1254.1 L327.3,1250.5 L327.7,1233.2 L328.2,1212.9 L328.2,1211.4 L328.7,1188.1 L329.1,1175.2 L329.2,1170.8 L329.7,1161.9 L329.7,1162.0 L330.2,1169.2 L330.7,1181.5 L330.7,1182.2 L331.2,1199.4 L331.6,1212.9 L331.7,1218.1 L332.2,1236.0 L332.7,1253.3 L332.9,1256.7 L333.2,1269.2 L333.7,1284.2 L334.1,1294.4 L334.2,1298.2 L334.7,1312.4 L335.2,1323.9 L335.4,1325.7 L335.7,1330.8 L336.2,1335.9 L336.6,1338.2 L336.7,1338.8 L337.2,1340.8 L337.6,1341.2 L337.7,1341.3 L338.2,1341.0 L338.7,1340.2 L339.2,1339.0 L339.5,1338.3 L339.7,1337.4 L340.2,1334.6 L340.7,1330.9 L341.2,1326.8 L341.4,1325.7 L341.7,1322.5 L342.2,1317.5 L342.7,1312.1 L342.9,1310.7 L343.2,1306.0 L343.7,1300.1 L343.9,1299.4 L344.2,1298.4 L344.7,1297.7 L344.9,1297.9 L345.2,1298.3 L345.7,1300.7 L346.1,1303.2 L346.2,1303.9 L346.7,1309.4 L347.2,1314.7 L347.4,1315.7 L347.7,1317.2 L348.2,1319.1 L348.7,1320.3 L349.2,1320.8 L349.2,1320.8 L349.7,1319.9 L350.2,1318.1 L350.7,1315.9 L350.8,1315.7 L351.2,1312.9 L351.7,1308.4 L352.2,1302.7 L352.4,1300.6 L352.7,1295.5 L353.2,1285.4 L353.7,1275.5 L353.7,1273.6 L354.2,1260.1 L354.7,1244.1 L354.9,1237.9 L355.2,1224.9 L355.7,1201.7 L356.1,1187.8 L356.2,1178.8 L356.7,1155.6 L357.1,1143.9 L357.2,1137.3 L357.7,1122.9 L357.9,1121.3 L358.2,1121.7 L358.7,1122.2 L358.9,1122.6 L359.2,1128.3 L359.7,1148.8 L359.9,1156.4 L360.2,1168.1 L360.7,1188.0 L361.1,1200.3 L361.2,1206.9 L361.7,1224.8 L362.2,1241.8 L362.3,1244.2 L362.7,1257.8 L363.2,1272.9 L363.6,1281.8 L363.7,1286.3 L364.2,1298.8 L364.7,1309.5 L365.0,1313.2 L365.2,1317.9 L365.7,1325.1 L366.2,1330.5 L366.5,1332.0 L366.7,1333.5 L367.2,1335.6 L367.7,1336.6 L367.7,1336.7 L368.2,1336.0 L368.7,1334.8 L369.2,1333.8 L369.6,1333.5 L369.7,1333.5 L370.2,1333.3 L370.7,1333.1 L371.2,1332.9 L371.2,1332.6 L371.7,1333.7 L372.2,1336.1 L372.7,1338.1 L372.7,1338.2 L373.2,1339.8 L373.7,1341.2 L374.2,1342.7 L374.6,1343.9 L374.7,1344.3 L375.2,1346.0 L375.7,1347.7 L376.2,1349.5 L376.2,1349.5 L376.7,1351.9 L377.2,1354.0 L377.5,1354.5 L377.7,1354.8 L378.2,1355.2 L378.7,1355.6 L379.2,1355.9 L379.7,1356.2 L380.2,1356.2 L380.3,1356.2 L380.7,1356.1 L381.2,1355.9 L381.7,1355.7 L382.2,1355.6 L382.7,1355.6 L383.2,1355.6 L383.4,1355.6 L383.7,1355.5 L384.2,1355.9 L384.7,1356.6 L385.2,1357.4 L385.7,1358.1 L386.2,1358.3 L386.5,1358.1 L386.7,1357.9 L387.2,1357.8 L387.7,1357.2 L388.2,1356.5 L388.7,1355.7 L389.2,1355.3 L389.7,1355.4 L389.7,1355.8 L390.2,1356.0 L390.7,1356.4 L391.2,1356.9 L391.7,1357.4 L392.2,1358.0 L392.7,1358.6 L393.2,1359.0 L393.7,1359.3 L394.0,1359.4 L394.2,1359.3 L394.7,1358.1 L395.2,1356.0 L395.7,1353.9 L396.2,1352.4 L396.6,1352.0 L396.7,1351.9 L397.2,1352.4 L397.7,1353.3 L398.2,1354.2 L398.7,1354.7 L399.1,1354.9 L399.2,1354.9 L399.7,1354.9 L400.2,1354.8 L400.7,1354.7 L401.2,1354.7 L401.7,1354.6 L402.2,1354.6 L402.7,1354.5 L402.8,1354.5 L403.2,1354.4 L403.7,1354.0 L404.2,1353.4 L404.7,1352.8 L405.2,1352.3 L405.7,1352.0 L406.2,1351.8 L406.6,1351.7 L406.7,1351.6 L407.2,1351.6 L407.7,1351.8 L408.2,1351.9 L408.7,1352.1 L409.2,1352.3 L409.7,1352.6 L410.2,1352.9 L410.3,1353.1 L410.7,1353.3 L411.2,1353.1 L411.7,1352.7 L412.2,1352.0 L412.7,1351.4 L413.2,1350.9 L413.5,1350.9 L413.7,1350.8 L414.2,1350.4 L414.7,1349.6 L415.2,1348.6 L415.7,1347.6 L416.2,1346.7 L416.7,1346.0 L417.2,1345.7 L417.2,1345.7 L417.7,1345.5 L418.2,1345.4 L418.7,1345.3 L419.1,1345.4 L419.2,1345.5 L419.7,1345.6 L420.2,1345.6 L420.5,1345.5 L420.7,1345.4 L421.2,1345.3 L421.7,1345.1 L422.2,1344.9 L422.7,1344.6 L422.8,1344.5 L423.2,1344.4 L423.7,1344.0 L424.2,1343.5 L424.7,1342.8 L425.2,1342.0 L425.7,1341.1 L426.2,1340.2 L426.7,1339.3 L427.2,1338.4 L427.7,1337.5 L428.2,1336.7 L428.7,1336.0 L429.1,1335.6 L429.2,1335.5 L429.7,1336.1 L430.2,1337.1 L430.7,1338.4 L431.2,1339.7 L431.7,1341.1 L432.2,1342.6 L432.7,1343.9 L433.0,1344.5 L433.2,1345.3 L433.7,1346.9 L434.2,1348.7 L434.7,1350.4 L435.2,1351.7 L435.7,1351.9 L435.9,1351.6 L436.2,1351.4 L436.7,1351.4 L437.2,1351.3 L437.7,1351.0 L438.2,1350.6 L438.7,1350.2 L439.2,1350.0 L439.7,1350.2 L439.8,1350.6 L440.2,1351.0 L440.7,1351.4 L441.2,1351.7 L441.7,1352.1 L442.2,1352.3 L442.7,1352.5 L443.2,1352.5 L443.2,1352.6 L443.7,1352.6 L444.2,1352.4 L444.7,1351.9 L445.2,1351.3 L445.7,1350.8 L446.2,1350.3 L446.7,1349.8 L447.2,1349.4 L447.7,1349.2 L447.8,1349.2 L448.2,1349.5 L448.7,1350.0 L449.2,1350.7 L449.7,1351.6 L450.2,1352.5 L450.7,1353.4 L451.2,1354.2 L451.7,1354.8 L452.2,1355.2 L452.3,1355.3 L452.7,1355.3 L453.2,1355.2 L453.7,1355.0 L454.2,1354.8 L454.7,1354.6 L455.2,1354.4 L455.7,1354.1 L456.2,1353.8 L456.7,1353.4 L457.2,1353.0 L457.7,1352.6 L458.2,1352.3 L458.7,1352.1 L459.2,1351.9 L459.2,1351.9 L459.7,1351.7 L460.2,1351.6 L460.7,1351.6 L461.2,1351.8 L461.7,1351.8 L462.2,1351.7 L462.7,1351.3 L463.2,1351.0 L463.7,1350.7 L464.2,1350.6 L464.7,1350.7 L464.8,1350.7 L465.2,1350.7 L465.7,1351.0 L466.2,1351.6 L466.7,1352.4 L467.2,1353.1 L467.7,1353.6 L468.2,1353.8 L468.3,1353.7 L468.7,1353.5 L469.2,1353.3 L469.7,1353.2 L470.2,1353.1 L470.7,1353.0 L471.2,1352.8 L471.7,1352.3 L472.2,1351.8 L472.7,1351.2 L473.2,1350.6 L473.7,1350.1 L474.2,1349.9 L474.7,1349.9 L475.1,1350.1 L475.2,1350.1 L475.7,1350.1 L476.2,1349.9 L476.7,1349.9 L477.2,1350.1 L477.7,1350.5 L478.2,1350.9 L478.7,1351.0 L479.2,1350.8 L479.7,1350.4 L480.2,1350.2 L480.7,1350.2 L481.2,1350.5 L481.7,1350.8 L481.9,1351.1 L482.2,1351.4 L482.7,1351.9 L483.2,1352.4 L483.7,1353.0 L484.2,1353.6 L484.7,1354.2 L485.2,1354.8 L485.7,1355.4 L486.2,1355.8 L486.7,1356.1 L487.2,1356.2 L487.6,1356.2 L487.7,1356.2 L488.2,1356.1 L488.7,1355.6 L489.2,1354.9 L489.7,1354.2 L490.2,1353.6 L490.7,1353.3 L491.0,1353.3 L491.2,1353.3 L491.7,1353.2 L492.2,1353.0 L492.7,1352.8 L493.2,1352.5 L493.7,1352.2 L494.2,1352.0 L494.7,1351.9 L495.2,1351.9 L495.7,1352.0 L496.2,1351.9 L496.7,1351.8 L497.2,1351.6 L497.7,1351.5 L498.2,1351.4 L498.7,1351.2 L499.2,1351.1 L499.7,1351.0 L500.1,1350.9 L500.2,1351.0 L500.7,1351.0 L501.2,1351.0 L501.7,1350.8 L502.2,1350.4 L502.7,1350.0 L503.2,1349.7 L503.7,1349.4 L504.2,1349.2 L504.7,1348.9 L505.2,1348.6 L505.7,1348.4 L505.8,1348.5 L506.2,1348.5 L506.7,1348.6 L507.2,1348.7 L507.7,1348.6 L508.2,1348.4 L508.7,1348.1 L509.2,1348.0 L509.7,1348.0 L510.2,1348.1 L510.4,1348.3 L510.7,1348.5 L511.2,1348.6 L511.7,1348.8 L512.2,1349.1 L512.7,1349.5 L513.2,1349.7 L513.7,1350.0 L514.2,1350.2 L514.7,1350.5 L515.2,1350.9 L515.7,1351.3 L516.0,1351.6 L516.2,1351.9 L516.7,1352.3 L517.2,1352.6 L517.7,1352.8 L518.2,1353.0 L518.7,1353.1 L519.2,1353.1 L519.7,1353.2 L520.2,1353.3 L520.6,1353.5 L520.7,1353.9 L521.2,1354.0 L521.7,1353.8 L522.2,1353.4 L522.7,1352.9 L523.2,1352.6 L523.7,1352.3 L524.0,1352.0 L524.2,1351.7 L524.7,1352.0 L525.2,1352.6 L525.7,1353.4 L526.2,1354.3 L526.7,1355.0 L527.2,1355.3 L527.4,1355.3 L527.7,1355.3 L528.2,1355.1 L528.7,1354.7 L529.2,1354.3 L529.7,1353.9 L530.2,1353.6 L530.7,1353.2 L531.2,1352.7 L531.7,1352.0 L532.0,1351.4 L532.2,1351.0 L532.7,1351.1 L533.2,1351.4 L533.7,1351.7 L534.2,1351.9 L534.7,1352.0 L535.2,1352.2 L535.7,1352.6 L536.2,1353.1 L536.5,1353.5 L536.7,1353.6 L537.2,1353.3 L537.7,1352.7 L538.2,1352.1 L538.7,1351.6 L539.2,1351.2 L539.7,1350.7 L540.2,1350.3 L540.7,1349.9 L541.2,1349.4 L541.7,1348.9 L542.2,1348.6 L542.2,1348.5 L542.7,1348.7 L543.2,1349.1 L543.7,1349.5 L544.2,1349.9 L544.7,1350.2 L545.2,1350.4 L545.7,1350.5 L546.2,1350.4 L546.7,1350.3 L547.2,1350.3 L547.7,1350.4 L547.9,1350.4 L548.2,1350.2 L548.7,1349.4 L549.2,1348.1 L549.7,1346.7 L550.2,1345.2 L550.7,1343.7 L551.2,1342.6 L551.3,1342.5 L551.7,1341.8 L552.2,1341.3 L552.7,1340.8 L553.2,1340.2 L553.7,1339.5 L554.2,1338.7 L554.7,1337.9 L555.2,1337.0 L555.7,1336.0 L555.9,1335.8 L556.2,1334.5 L556.7,1332.1 L557.2,1329.2 L557.7,1326.0 L558.2,1322.8 L558.7,1319.9 L559.2,1317.5 L559.3,1317.4 L559.7,1315.4 L560.2,1313.2 L560.7,1311.0 L561.2,1309.1 L561.7,1307.5 L562.2,1306.4 L562.7,1306.2 L562.9,1306.3 L563.2,1306.3 L563.7,1306.6 L564.2,1307.4 L564.7,1308.7 L565.2,1310.2 L565.7,1311.7 L566.1,1312.8 L566.2,1313.3 L566.7,1315.0 L567.2,1317.1 L567.7,1319.3 L568.2,1321.5 L568.7,1323.6 L569.2,1325.5 L569.5,1326.3 L569.7,1327.0 L570.2,1328.3 L570.7,1329.7 L571.2,1331.0 L571.7,1332.3 L572.2,1333.5 L572.7,1334.7 L573.2,1335.9 L573.7,1337.1 L574.1,1337.8 L574.2,1338.1 L574.7,1339.2 L575.2,1340.2 L575.7,1341.2 L576.2,1342.3 L576.7,1343.4 L577.2,1344.4 L577.5,1344.8 L577.7,1345.3 L578.2,1346.3 L578.7,1347.4 L579.2,1348.5 L579.7,1349.6 L580.2,1350.5 L580.7,1351.2 L581.2,1351.7 L581.7,1351.9 L582.0,1352.0 L582.2,1352.1 L582.7,1352.1 L583.2,1352.2 L583.7,1352.3 L584.2,1352.3 L584.7,1352.3 L585.2,1352.1 L585.7,1352.0 L586.2,1351.9 L586.7,1351.9 L587.2,1352.0 L587.7,1352.1 L587.7,1352.0 L588.2,1352.0 L588.7,1352.1 L589.2,1352.3 L589.7,1352.5 L590.2,1352.7 L590.7,1352.8 L591.2,1352.9 L591.7,1353.0 L592.2,1353.3 L592.7,1353.6 L593.2,1354.1 L593.4,1354.3 L593.7,1354.4 L594.2,1354.3 L594.7,1354.1 L595.2,1353.8 L595.7,1353.6 L596.2,1353.3 L596.7,1352.9 L597.2,1352.6 L597.7,1352.1 L598.2,1351.8 L598.4,1351.6 L598.7,1351.6 L599.2,1351.6 L599.7,1351.7 L600.0,1352.0 L600.2,1352.1 L600.7,1352.0 L601.2,1351.7 L601.7,1351.3 L602.2,1351.0 L602.7,1350.7 L603.2,1350.6 L603.7,1350.7 L604.2,1350.8 L604.7,1351.0 L604.7,1351.2 L605.2,1351.4 L605.7,1351.7 L606.2,1352.1 L606.7,1352.5 L607.2,1352.7 L607.7,1352.7 L608.2,1352.7 L608.7,1352.8 L609.2,1352.9 L609.7,1353.0 L610.2,1353.1 L610.5,1353.0 L610.7,1352.9 L611.2,1352.8 L611.7,1352.8 L612.2,1352.8 L612.7,1352.6 L613.2,1352.2 L613.7,1351.7 L614.2,1351.2 L614.7,1350.8 L615.2,1350.4 L615.7,1350.1 L616.2,1349.9 L616.7,1349.7 L617.2,1349.7 L617.5,1349.6 L617.7,1349.4 L618.2,1349.3 L618.7,1349.2 L619.2,1349.1 L619.7,1349.0 L620.2,1348.9 L620.7,1348.9 L621.2,1349.2 L621.7,1349.6 L622.2,1350.1 L622.7,1350.5 L623.2,1350.7 L623.3,1350.6 L623.7,1350.2 L624.2,1349.6 L624.7,1349.0 L625.2,1348.4 L625.7,1347.8 L626.2,1347.1 L626.7,1346.3 L627.2,1345.4 L627.7,1344.6 L627.9,1344.4 L628.2,1344.0 L628.7,1343.4 L629.2,1342.8 L629.7,1342.3 L630.2,1341.7 L630.7,1341.1 L631.2,1340.3 L631.4,1340.0 L631.7,1339.3 L632.2,1338.1 L632.7,1336.9 L633.2,1335.6 L633.7,1334.2 L634.2,1332.7 L634.7,1331.1 L634.9,1330.5 L635.2,1329.4 L635.7,1327.6 L636.2,1325.6 L636.7,1323.4 L637.2,1321.1 L637.7,1318.7 L637.7,1318.6 L638.2,1315.8 L638.7,1312.5 L639.2,1308.9 L639.7,1305.0 L640.1,1302.5 L640.2,1300.9 L640.7,1296.4 L641.2,1291.4 L641.7,1285.9 L641.9,1283.9 L642.2,1279.7 L642.7,1272.8 L643.2,1265.0 L643.7,1256.5 L643.8,1255.9 L644.2,1247.1 L644.7,1236.6 L645.2,1225.0 L645.4,1221.0 L645.7,1212.4 L646.2,1198.2 L646.7,1183.3 L647.0,1174.4 L647.2,1168.3 L647.7,1153.1 L648.2,1137.6 L648.7,1121.5 L648.9,1116.2 L649.2,1104.5 L649.7,1086.6 L650.2,1068.4 L650.5,1058.0 L650.7,1050.4 L651.2,1032.2 L651.7,1014.2 L652.2,999.7 L652.2,997.1 L652.7,980.8 L653.2,965.0 L653.7,949.9 L654.0,941.5 L654.2,935.0 L654.7,919.2 L655.2,904.4 L655.7,892.8 L655.9,890.3 L656.2,884.9 L656.7,878.0 L657.2,873.6 L657.5,873.6 L657.7,873.4 L658.2,877.4 L658.7,884.1 L659.2,890.3 L659.2,891.8 L659.7,903.0 L660.2,917.6 L660.7,933.3 L661.0,941.5 L661.2,948.4 L661.7,963.8 L662.2,979.7 L662.7,995.6 L662.9,999.7 L663.2,1011.2 L663.7,1026.8 L664.2,1042.5 L664.7,1057.9 L664.7,1058.1 L665.2,1073.7 L665.7,1089.3 L666.2,1105.0 L666.6,1116.2 L666.7,1120.6 L667.2,1136.7 L667.7,1152.8 L668.2,1168.1 L668.5,1174.4 L668.7,1182.0 L669.2,1195.3 L669.7,1207.7 L670.2,1219.1 L670.3,1221.0 L670.7,1229.7 L671.2,1239.5 L671.7,1248.6 L672.2,1255.9 L672.2,1256.7 L672.7,1264.1 L673.2,1271.1 L673.7,1277.4 L674.2,1283.2 L674.5,1286.2 L674.7,1288.4 L675.2,1293.2 L675.7,1297.6 L676.2,1301.7 L676.7,1305.5 L677.2,1309.0 L677.3,1309.5 L677.7,1312.3 L678.2,1315.4 L678.7,1318.3 L679.2,1321.0 L679.7,1323.4 L680.2,1325.4 L680.3,1325.8 L680.7,1327.1 L681.2,1328.5 L681.7,1329.8 L682.2,1331.0 L682.7,1332.2 L683.2,1333.5 L683.7,1334.8 L683.8,1335.0 L684.2,1336.3 L684.7,1337.9 L685.2,1339.7 L685.7,1341.4 L686.2,1342.9 L686.7,1344.3 L687.2,1345.2 L687.3,1345.5 L687.7,1346.2 L688.2,1347.0 L688.7,1347.8 L689.2,1348.6 L689.7,1349.3 L690.2,1349.9 L690.7,1350.2 L690.8,1350.1 L691.2,1350.0 L691.7,1349.8 L692.2,1349.6 L692.7,1349.3 L693.2,1349.0 L693.7,1348.7 L694.2,1348.5 L694.7,1348.2 L695.2,1348.0 L695.7,1347.8 L696.2,1347.7 L696.7,1347.7 L697.2,1347.8 L697.7,1348.1 L697.8,1348.4 L698.2,1348.6 L698.7,1348.8 L699.2,1348.8 L699.7,1348.9 L700.2,1349.0 L700.7,1349.1 L701.2,1349.4 L701.7,1349.6 L702.2,1349.9 L702.7,1350.0 L703.2,1350.0 L703.6,1350.0 L703.7,1350.0 L704.2,1350.2 L704.7,1350.5 L705.2,1350.8 L705.7,1351.1 L706.2,1351.2 L706.7,1351.2 L707.2,1351.2 L707.7,1351.1 L708.2,1351.0 L708.7,1351.1 L709.2,1351.2 L709.5,1351.3 L709.7,1351.4 L710.2,1351.4 L710.7,1351.1 L711.2,1350.7 L711.7,1350.0 L712.2,1349.3 L712.7,1348.4 L713.2,1347.5 L713.7,1346.6 L714.2,1345.9 L714.7,1345.6 L715.2,1345.6 L715.3,1345.8 L715.7,1345.9 L716.2,1345.9 L716.7,1346.0 L717.2,1346.2 L717.7,1346.6 L718.2,1347.0 L718.7,1347.4 L719.2,1347.8 L719.7,1348.0 L719.9,1348.2 L720.2,1348.4 L720.7,1348.9 L721.2,1349.4 L721.7,1349.9 L722.2,1350.3 L722.7,1350.3 L723.1,1350.2 L723.2,1350.0 L723.7,1349.8 L724.2,1349.6 L724.7,1349.4 L725.2,1349.2 L725.7,1349.0 L726.2,1348.7 L726.2,1348.3 L726.7,1348.1 L727.2,1348.5 L727.7,1349.2 L728.2,1350.0 L728.7,1350.8 L729.2,1351.6 L729.3,1351.8 L729.7,1351.5 L730.2,1350.9 L730.7,1350.3 L731.2,1349.8 L731.7,1349.4 L732.2,1349.1 L732.4,1348.8 L732.7,1348.6 L733.2,1348.6 L733.7,1348.8 L734.2,1349.2 L734.7,1349.6 L735.2,1349.9 L735.7,1350.2 L736.2,1350.5 L736.7,1350.7 L737.2,1350.8 L737.6,1350.7 L737.7,1350.6 L738.2,1350.5 L738.7,1350.3 L739.2,1350.0 L739.7,1349.6 L740.2,1349.3 L740.7,1349.0 L741.2,1348.8 L741.7,1348.5 L742.2,1348.1 L742.7,1347.7 L743.2,1347.5 L743.7,1347.5 L743.8,1347.7 L744.2,1347.9 L744.7,1348.2 L745.2,1348.6 L745.7,1349.0 L746.2,1349.4 L746.7,1349.8 L747.2,1350.2 L747.7,1350.5 L747.9,1350.5 L748.2,1350.6 L748.7,1351.0 L749.2,1351.4 L749.7,1351.8 L750.2,1352.1 L750.7,1352.4 L751.2,1352.6 L751.7,1352.9 L752.2,1353.1 L752.7,1353.3 L753.1,1353.3 L753.2,1353.3 L753.7,1352.7 L754.2,1351.8 L754.7,1350.8 L755.2,1350.0 L755.7,1349.5 L756.2,1349.3 L756.2,1349.1 L756.7,1348.9 L757.2,1348.7 L757.7,1348.6 L758.2,1348.7 L758.7,1348.9 L759.2,1349.2 L759.7,1349.5 L760.2,1349.8 L760.7,1349.9 L761.2,1349.9 L761.4,1349.6 L761.7,1349.3 L762.2,1349.1 L762.7,1348.9 L763.2,1348.9 L763.7,1349.1 L764.2,1349.4 L764.7,1349.6 L765.2,1349.8 L765.5,1349.9 L765.7,1349.9 L766.2,1349.7 L766.7,1349.2 L767.2,1348.6 L767.7,1347.9 L768.2,1347.3 L768.7,1346.7 L769.0,1346.6 L769.2,1346.9 L769.7,1347.4 L770.2,1347.9 L770.7,1348.5 L771.2,1349.1 L771.7,1349.5 L772.2,1349.9 L772.7,1350.1 L772.7,1349.8 L773.2,1349.7 L773.7,1349.7 L774.2,1349.7 L774.7,1349.9 L775.2,1350.2 L775.7,1350.6 L775.8,1350.8 L776.2,1350.8 L776.7,1350.5 L777.2,1349.9 L777.7,1349.3 L778.2,1348.7 L778.7,1348.1 L779.2,1347.6 L779.7,1347.4 L780.0,1347.4 L780.2,1347.3 L780.7,1346.9 L781.2,1346.6 L781.7,1346.5 L782.2,1346.5 L782.7,1346.6 L783.1,1346.8 L783.2,1346.9 L783.7,1347.1 L784.2,1347.5 L784.7,1347.9 L785.2,1348.1 L785.6,1348.2 L785.7,1348.3 L786.2,1348.4 L786.7,1348.5 L787.2,1348.6 L787.7,1348.7 L788.2,1348.6 L788.7,1348.5 L789.2,1348.4 L789.7,1348.2 L790.2,1348.0 L790.7,1347.9 L791.2,1347.9 L791.2,1348.0 L791.7,1348.0 L792.2,1347.8 L792.7,1347.4 L793.2,1346.8 L793.7,1346.2 L794.2,1345.7 L794.7,1345.4 L794.9,1345.4 L795.2,1345.5 L795.7,1345.7 L796.2,1346.0 L796.7,1346.3 L797.2,1346.6 L797.7,1346.9 L798.2,1347.2 L798.6,1347.4 L798.7,1347.6 L799.2,1347.2 L799.7,1346.3 L800.2,1345.3 L800.7,1344.5 L801.2,1344.0 L801.4,1343.9 L801.7,1343.9 L802.2,1343.9 L802.7,1344.1 L803.2,1344.3 L803.7,1344.7 L804.2,1345.1 L804.7,1345.7 L805.2,1346.3 L805.7,1346.9 L806.1,1347.3 L806.2,1347.5 L806.7,1347.8 L807.2,1348.0 L807.7,1348.3 L808.2,1348.7 L808.7,1349.2 L809.2,1349.7 L809.7,1350.1 L810.2,1350.3 L810.7,1350.4 L811.2,1350.6 L811.7,1350.7 L812.2,1350.9 L812.7,1351.1 L813.2,1351.3 L813.5,1351.3 L813.7,1351.2 L814.2,1350.5 L814.7,1349.5 L815.2,1348.4 L815.7,1347.3 L816.2,1346.4 L816.7,1345.8 L817.2,1345.8 L817.2,1345.9 L817.7,1346.0 L818.2,1346.2 L818.7,1346.5 L819.2,1347.0 L819.7,1347.5 L820.2,1348.1 L820.7,1348.7 L821.2,1349.0 L821.7,1349.2 L821.9,1349.1 L822.2,1348.8 L822.7,1348.1 L823.2,1347.4 L823.7,1346.6 L824.2,1345.8 L824.7,1345.2 L824.7,1345.1 L825.2,1345.1 L825.7,1345.1 L826.2,1345.0 L826.7,1344.9 L827.2,1344.6 L827.7,1344.5 L828.2,1344.5 L828.7,1344.6 L829.2,1344.7 L829.7,1344.6 L830.2,1344.5 L830.7,1344.4 L831.2,1344.3 L831.7,1344.3 L832.1,1344.2 L832.2,1344.2 L832.7,1343.9 L833.2,1343.5 L833.7,1342.9 L834.2,1342.5 L834.7,1342.2 L835.2,1342.1 L835.7,1342.2 L835.8,1342.4 L836.2,1342.4 L836.7,1342.5 L837.2,1342.7 L837.7,1343.0 L838.2,1343.3 L838.7,1343.6 L839.2,1343.8 L839.6,1343.8 L839.7,1343.6 L840.2,1343.1 L840.7,1342.3 L841.2,1341.3 L841.7,1340.1 L842.2,1339.0 L842.7,1337.9 L843.2,1336.9 L843.7,1336.2 L844.2,1335.9 L844.2,1335.8 L844.7,1335.8 L845.2,1336.1 L845.7,1336.6 L846.2,1337.2 L846.7,1337.7 L847.2,1337.8 L847.4,1337.5 L847.7,1336.8 L848.2,1335.9 L848.7,1334.7 L849.2,1333.4 L849.7,1332.2 L849.8,1332.2 L850.2,1331.6 L850.7,1331.1 L851.2,1330.7 L851.7,1330.4 L852.2,1330.1 L852.7,1329.7 L853.2,1329.2 L853.5,1328.7 L853.7,1328.3 L854.2,1327.0 L854.7,1325.1 L855.2,1323.0 L855.7,1320.8 L856.2,1318.8 L856.3,1318.5 L856.7,1317.0 L857.2,1315.3 L857.7,1313.8 L858.2,1312.2 L858.7,1310.5 L859.2,1308.6 L859.7,1306.6 L859.7,1306.2 L860.2,1303.0 L860.7,1299.1 L861.2,1295.0 L861.7,1291.0 L861.9,1289.8 L862.2,1287.4 L862.7,1283.9 L863.2,1280.5 L863.7,1277.2 L864.2,1274.0 L864.7,1271.2 L864.7,1270.9 L865.2,1267.8 L865.7,1264.5 L866.2,1261.5 L866.7,1259.3 L867.1,1258.2 L867.2,1257.9 L867.7,1257.0 L868.2,1256.2 L868.7,1255.8 L869.0,1255.7 L869.2,1255.9 L869.7,1256.2 L870.2,1256.7 L870.7,1257.2 L871.2,1257.9 L871.6,1258.3 L871.7,1258.6 L872.2,1260.1 L872.7,1262.4 L873.2,1265.2 L873.7,1268.0 L874.0,1269.4 L874.2,1270.7 L874.7,1273.7 L875.2,1276.9 L875.7,1280.1 L876.2,1283.2 L876.7,1285.9 L876.8,1286.1 L877.2,1288.2 L877.7,1290.2 L878.2,1292.1 L878.7,1294.0 L879.2,1295.9 L879.6,1297.3 L879.7,1298.0 L880.2,1300.6 L880.7,1303.6 L881.2,1306.7 L881.7,1309.6 L882.2,1312.3 L882.7,1314.4 L883.2,1315.7 L883.3,1315.7 L883.7,1316.0 L884.2,1316.3 L884.7,1316.6 L885.2,1317.1 L885.7,1317.8 L886.1,1318.5 L886.2,1318.9 L886.7,1320.9 L887.2,1323.6 L887.7,1326.7 L888.2,1329.5 L888.7,1331.5 L888.9,1331.9 L889.2,1332.5 L889.7,1333.2 L890.2,1333.8 L890.7,1334.2 L891.2,1334.6 L891.7,1335.0 L891.7,1335.0 L892.2,1335.7 L892.7,1336.7 L893.2,1337.8 L893.7,1338.9 L894.2,1340.0 L894.7,1340.9 L895.2,1341.6 L895.4,1341.9 L895.7,1342.2 L896.2,1342.6 L896.7,1342.9 L897.2,1343.0 L897.7,1343.0 L898.2,1343.1 L898.7,1343.3 L899.2,1343.5 L899.7,1343.7 L900.2,1343.9 L900.7,1344.3 L901.0,1344.6 L901.2,1344.9 L901.7,1345.4 L902.2,1346.0 L902.7,1346.6 L903.2,1347.2 L903.7,1347.6 L904.2,1347.7 L904.7,1347.6 L904.7,1347.3 L905.2,1347.1 L905.7,1347.1 L906.2,1347.0 L906.7,1347.0 L907.2,1346.9 L907.7,1346.7 L908.2,1346.5 L908.7,1346.3 L909.2,1346.0 L909.7,1345.7 L910.2,1345.6 L910.3,1345.5 L910.7,1346.1 L911.2,1347.0 L911.7,1348.0 L912.2,1349.0 L912.7,1349.7 L913.1,1350.1 L913.2,1350.3 L913.7,1350.8 L914.2,1351.4 L914.7,1351.9 L915.2,1352.2 L915.7,1352.4 L916.2,1352.6 L916.7,1352.6 L917.2,1352.6 L917.7,1352.6 L917.8,1352.5 L918.2,1352.4 L918.7,1351.9 L919.2,1351.0 L919.7,1350.2 L920.2,1349.8 L920.5,1350.0 L920.7,1350.2 L921.2,1350.3 L921.7,1350.2 L922.2,1349.9 L922.7,1349.7 L923.2,1349.5 L923.7,1349.5 L924.2,1349.4 L924.7,1349.4 L925.2,1349.3 L925.7,1349.2 L926.2,1349.1 L926.7,1349.1 L927.1,1349.1 L927.2,1349.2 L927.7,1349.4 L928.2,1349.6 L928.7,1349.7 L929.2,1349.8 L929.7,1349.9 L930.2,1350.1 L930.7,1350.1 L931.2,1350.1 L931.7,1349.9 L932.2,1349.8 L932.6,1349.7 L932.7,1349.7 L933.2,1349.8 L933.7,1350.0 L934.2,1350.3 L934.7,1350.5 L935.2,1350.6 L935.7,1350.5 L936.2,1350.2 L936.7,1350.0 L937.2,1350.0 L937.7,1349.9 L938.2,1350.0 L938.2,1350.0 L938.7,1349.8 L939.2,1349.4 L939.7,1348.7 L940.2,1347.9 L940.7,1347.2 L941.2,1346.5 L941.7,1346.1 L942.0,1346.1 L942.2,1346.2 L942.7,1346.5 L943.2,1347.1 L943.7,1347.8 L944.2,1348.6 L944.7,1349.2 L945.2,1349.7 L945.7,1350.1 L945.7,1350.5 L946.2,1350.6 L946.7,1350.6 L947.2,1350.5 L947.7,1350.3 L948.2,1350.1 L948.7,1350.0 L949.2,1349.9 L949.7,1349.8 L949.8,1349.9" fill="none" stroke="#000" stroke-width="2.85" stroke-linejoin="round" stroke-linecap="round"/>
<line x1="217.8" y1="1242.4" x2="219.0" y2="1322.6" stroke="#000" stroke-width="2.20"/>
<line x1="271.2" y1="1207.8" x2="250.7" y2="1337.9" stroke="#000" stroke-width="2.20"/>
<line x1="280.7" y1="1302.2" x2="277.1" y2="1342.5" stroke="#000" stroke-width="2.20"/>
<line x1="360.3" y1="1068.2" x2="345.9" y2="1124.2" stroke="#000" stroke-width="2.20"/>
<text transform="translate(167.8,847.0) scale(1.06,1)" font-size="35.6px">(b)</text>
<text transform="translate(157.5,1254.8) scale(0.945,1)" font-size="31.4px" text-anchor="start"><tspan dy="0.00" font-size="31.4px">H</tspan><tspan dy="-14.60" font-size="18.4px">+</tspan></text>
<text transform="translate(199.9,1212.8) scale(0.945,1)" font-size="31.4px" text-anchor="start"><tspan dy="0.00" font-size="31.4px">H</tspan><tspan dy="12.00" font-size="18.4px">2</tspan><tspan dy="-26.60" font-size="18.4px">+</tspan></text>
<text transform="translate(254.6,1198.7) scale(0.945,1)" font-size="31.4px" text-anchor="start"><tspan dy="0.00" font-size="31.4px">He</tspan><tspan dy="-14.60" font-size="18.4px">+</tspan></text>
<text transform="translate(270.4,1291.5) scale(0.945,1)" font-size="31.4px" text-anchor="start"><tspan dy="0.00" font-size="31.4px">C</tspan><tspan dy="-16.60" font-size="18.4px">2+</tspan></text>
<text transform="translate(308.4,1059.6) scale(0.945,1)" font-size="31.4px" text-anchor="start"><tspan dy="0.00" font-size="31.4px">C</tspan><tspan dy="-14.60" font-size="18.4px">+</tspan><tspan dy="14.60" font-size="31.4px">,N</tspan><tspan dy="-14.60" font-size="18.4px">+</tspan><tspan dy="14.60" font-size="31.4px">,O</tspan><tspan dy="-14.60" font-size="18.4px">+</tspan></text>
<text transform="translate(416.4,1319.1) scale(0.945,1)" font-size="31.4px" text-anchor="start"><tspan dy="0.00" font-size="31.4px">N</tspan><tspan dy="10.80" font-size="18.4px">2</tspan><tspan dy="-26.60" font-size="18.4px">+</tspan></text>
<text transform="translate(545.4,1288.8) scale(0.915,1)" font-size="31.4px" text-anchor="start"><tspan dy="0.00" font-size="31.4px">W</tspan><tspan dx="5.5" dy="-15.40" font-size="18.4px">3+</tspan></text>
<text transform="translate(618.7,870.6) scale(0.920,1)" font-size="31.4px" text-anchor="start"><tspan dy="0.00" font-size="31.4px">W</tspan><tspan dx="5.5" dy="-16.80" font-size="18.4px">2+</tspan></text>
<text transform="translate(850.5,1239.5) scale(0.945,1)" font-size="31.4px" text-anchor="start"><tspan dy="0.00" font-size="31.4px">W</tspan><tspan dx="6.5" dy="-14.60" font-size="18.4px">+</tspan></text>
</g>
<g id="panel-c">
<rect x="139.20" y="1555.90" width="799.40" height="587.00" fill="none" stroke="#000" stroke-width="2.20"/>
<path d="M139.20,2142.90 v12.00 M205.82,2142.90 v6.00 M205.82,1555.90 v6.00 M272.43,2142.90 v12.00 M272.43,1555.90 v12.00 M339.05,2142.90 v6.00 M339.05,1555.90 v6.00 M405.67,2142.90 v12.00 M405.67,1555.90 v12.00 M472.28,2142.90 v6.00 M472.28,1555.90 v6.00 M538.90,2142.90 v12.00 M538.90,1555.90 v12.00 M605.52,2142.90 v6.00 M605.52,1555.90 v6.00 M672.13,2142.90 v12.00 M672.13,1555.90 v12.00 M738.75,2142.90 v6.00 M738.75,1555.90 v6.00 M805.37,2142.90 v12.00 M805.37,1555.90 v12.00 M871.98,2142.90 v6.00 M871.98,1555.90 v6.00 M938.60,2142.90 v12.00 M139.20,2130.20 h-12.00 M938.60,2130.20 h-12.00 M139.20,2098.29 h-6.00 M938.60,2098.29 h-6.00 M139.20,2066.39 h-12.00 M938.60,2066.39 h-12.00 M139.20,2034.48 h-6.00 M938.60,2034.48 h-6.00 M139.20,2002.58 h-12.00 M938.60,2002.58 h-12.00 M139.20,1970.67 h-6.00 M938.60,1970.67 h-6.00 M139.20,1938.77 h-12.00 M938.60,1938.77 h-12.00 M139.20,1906.86 h-6.00 M938.60,1906.86 h-6.00 M139.20,1874.96 h-12.00 M938.60,1874.96 h-12.00 M139.20,1843.05 h-6.00 M938.60,1843.05 h-6.00 M139.20,1811.14 h-12.00 M938.60,1811.14 h-12.00 M139.20,1779.24 h-6.00 M938.60,1779.24 h-6.00 M139.20,1747.33 h-12.00 M938.60,1747.33 h-12.00 M139.20,1715.43 h-6.00 M938.60,1715.43 h-6.00 M139.20,1683.52 h-12.00 M938.60,1683.52 h-12.00 M139.20,1651.62 h-6.00 M938.60,1651.62 h-6.00 M139.20,1619.71 h-12.00 M938.60,1619.71 h-12.00 M139.20,1587.81 h-6.00 M938.60,1587.81 h-6.00 M139.20,1555.90 h-12.00" stroke="#000" stroke-width="2.20" fill="none"/>
<text transform="translate(119.2,2139.0) scale(1.010,1)" font-size="31.8px" text-anchor="end">0.00</text>
<text transform="translate(119.2,2075.2) scale(1.010,1)" font-size="31.8px" text-anchor="end">0.05</text>
<text transform="translate(119.2,2011.4) scale(1.010,1)" font-size="31.8px" text-anchor="end">0.10</text>
<text transform="translate(119.2,1947.6) scale(1.010,1)" font-size="31.8px" text-anchor="end">0.15</text>
<text transform="translate(119.2,1883.8) scale(1.010,1)" font-size="31.8px" text-anchor="end">0.20</text>
<text transform="translate(119.2,1819.9) scale(1.010,1)" font-size="31.8px" text-anchor="end">0.25</text>
<text transform="translate(119.2,1756.1) scale(1.010,1)" font-size="31.8px" text-anchor="end">0.30</text>
<text transform="translate(119.2,1692.3) scale(1.010,1)" font-size="31.8px" text-anchor="end">0.35</text>
<text transform="translate(119.2,1628.5) scale(1.010,1)" font-size="31.8px" text-anchor="end">0.40</text>
<text transform="translate(119.2,1564.7) scale(1.010,1)" font-size="31.8px" text-anchor="end">0.45</text>
<text transform="translate(139.2,2186.4) scale(1.010,1)" font-size="31.8px" text-anchor="middle">0</text>
<text transform="translate(272.4,2186.4) scale(1.010,1)" font-size="31.8px" text-anchor="middle">1</text>
<text transform="translate(405.7,2186.4) scale(1.010,1)" font-size="31.8px" text-anchor="middle">2</text>
<text transform="translate(538.9,2186.4) scale(1.010,1)" font-size="31.8px" text-anchor="middle">3</text>
<text transform="translate(672.1,2186.4) scale(1.010,1)" font-size="31.8px" text-anchor="middle">4</text>
<text transform="translate(805.4,2186.4) scale(1.010,1)" font-size="31.8px" text-anchor="middle">5</text>
<text transform="translate(938.6,2186.4) scale(1.010,1)" font-size="31.8px" text-anchor="middle">6</text>
<text transform="translate(539.6,2219.9) scale(0.9998,1)" font-size="34.7px" text-anchor="middle">Time (<tspan font-family="'Liberation Serif', 'DejaVu Serif', serif">μ</tspan>s)</text>
<text transform="translate(30.5,2020.7) rotate(-90)" font-size="35.4px" text-anchor="start" textLength="378.3" lengthAdjust="spacingAndGlyphs">TOF FC ion current (mA)</text>
<clipPath id="clipc"><rect x="139.20" y="1555.90" width="799.40" height="587.00"/></clipPath>
<path clip-path="url(#clipc)" d="M141.5,2134.8 L142.4,2144.8 L143.3,2134.8 L144.8,2145.4 L146.4,2129.6 L147.3,2141.1 L148.2,2116.3 L149.1,2145.4 L150.0,2102.7 L151.3,2149.5 L152.6,2132.7 L153.6,2148.7 L154.6,2124.5 L155.6,2147.6 L156.5,2124.3 L157.4,2142.0 L158.3,2117.7 L159.3,2149.0 L160.3,2124.5 L161.2,2148.7 L162.1,2120.8 L163.0,2142.5 L164.0,2128.6 L165.5,2139.0 L167.1,2127.6 L168.6,2142.1 L170.2,2123.9 L171.1,2143.8 L172.1,2127.2 L173.1,2142.4 L174.1,2120.3 L175.2,2133.6 L176.4,2124.5 L177.7,2132.6 L179.0,2123.4 L180.5,2142.0 L182.1,2118.8 L183.3,2141.8 L184.6,2125.5 L185.7,2147.4 L186.7,2123.9 L187.7,2146.4 L188.8,2126.5 L189.8,2141.5 L190.8,2119.8 L192.4,2145.3 L193.9,2119.8 L196.3,2129.2 L196.8,2124.0 L197.3,2110.1 L197.5,2101.4 L197.8,2080.2 L198.3,2017.4 L198.3,2016.4 L198.8,1967.0 L199.1,1939.1 L199.3,1916.3 L199.8,1866.2 L199.8,1861.8 L200.3,1830.5 L200.4,1823.2 L200.8,1815.3 L200.9,1814.5 L201.3,1818.7 L201.7,1830.9 L201.8,1834.8 L202.3,1875.7 L202.5,1892.7 L202.8,1923.3 L203.2,1970.0 L203.3,1974.5 L203.8,2026.5 L204.0,2047.3 L204.3,2070.1 L204.8,2101.4 L204.8,2101.4 L205.3,2115.6 L205.8,2122.8 L205.9,2122.8 L206.3,2122.4 L206.8,2121.5 L207.1,2121.4 L207.3,2121.8 L207.8,2124.7 L208.3,2128.2 L208.6,2129.9 L208.8,2129.8 L209.3,2129.0 L209.8,2128.3 L210.3,2127.7 L210.5,2127.6 L210.8,2128.7 L211.3,2133.0 L211.7,2135.5 L211.8,2135.5 L212.3,2134.1 L212.8,2131.4 L213.3,2128.5 L213.8,2126.2 L214.0,2125.1 L214.3,2126.5 L214.8,2130.3 L215.3,2134.3 L215.6,2134.9 L215.8,2134.9 L216.3,2135.0 L216.8,2134.7 L217.3,2134.2 L217.8,2133.5 L218.3,2132.8 L218.7,2132.2 L218.8,2132.0 L219.3,2126.9 L219.8,2118.0 L220.2,2109.1 L220.3,2108.3 L220.8,2096.0 L221.3,2081.9 L221.8,2070.5 L221.8,2070.5 L222.3,2061.6 L222.8,2054.4 L223.2,2052.1 L223.3,2052.6 L223.8,2061.8 L224.3,2075.3 L224.4,2078.2 L224.8,2086.1 L225.3,2096.8 L225.8,2106.3 L226.0,2109.1 L226.3,2114.2 L226.8,2121.6 L227.3,2126.7 L227.5,2127.7 L227.8,2128.2 L228.3,2129.0 L228.8,2129.5 L229.3,2129.9 L229.8,2130.3 L230.3,2130.8 L230.3,2130.8 L230.8,2132.1 L231.3,2133.7 L231.8,2134.8 L231.8,2135.0 L232.3,2134.6 L232.8,2133.5 L233.3,2132.1 L233.8,2130.5 L234.3,2129.0 L234.8,2127.8 L234.9,2127.6 L235.3,2127.2 L235.8,2126.5 L236.3,2125.9 L236.8,2125.5 L237.3,2125.4 L237.5,2125.4 L237.8,2125.2 L238.3,2126.2 L238.8,2128.1 L239.3,2129.7 L239.6,2129.9 L239.8,2129.7 L240.3,2129.9 L240.8,2130.2 L241.3,2130.6 L241.8,2130.8 L242.3,2130.9 L242.6,2130.9 L242.8,2130.9 L243.3,2130.6 L243.8,2129.9 L244.3,2129.1 L244.8,2128.2 L245.3,2127.6 L245.7,2127.1 L245.8,2126.9 L246.3,2126.7 L246.8,2126.7 L247.3,2126.7 L247.8,2126.8 L248.3,2126.7 L248.8,2126.5 L248.8,2126.4 L249.3,2125.5 L249.8,2123.7 L250.3,2121.1 L250.8,2117.9 L251.1,2115.3 L251.3,2114.2 L251.8,2107.5 L252.3,2099.3 L252.7,2093.7 L252.8,2092.7 L253.3,2087.0 L253.8,2084.1 L253.8,2084.2 L254.3,2086.4 L254.8,2091.3 L255.0,2093.7 L255.3,2096.8 L255.8,2104.5 L256.3,2112.2 L256.6,2115.3 L256.8,2117.4 L257.3,2121.9 L257.8,2125.6 L258.3,2127.7 L258.4,2127.8 L258.8,2127.7 L259.3,2127.6 L259.8,2127.4 L260.3,2127.3 L260.8,2127.3 L261.3,2127.4 L261.8,2127.6 L262.3,2127.9 L262.6,2128.1 L262.8,2128.2 L263.3,2128.9 L263.8,2129.7 L264.3,2130.0 L264.5,2130.0 L264.8,2130.1 L265.3,2130.1 L265.8,2130.0 L266.3,2129.7 L266.8,2129.4 L267.3,2129.1 L267.7,2128.8 L267.8,2128.6 L268.3,2128.2 L268.8,2127.7 L269.3,2127.2 L269.8,2126.7 L270.2,2126.1 L270.3,2126.0 L270.8,2125.4 L271.3,2124.7 L271.8,2123.8 L272.1,2123.0 L272.3,2122.5 L272.8,2119.2 L273.3,2114.5 L273.8,2109.1 L273.8,2108.9 L274.3,2103.0 L274.8,2095.2 L275.1,2089.8 L275.3,2084.7 L275.8,2069.3 L276.0,2064.3 L276.3,2056.5 L276.8,2046.2 L276.9,2045.1 L277.3,2039.5 L277.6,2037.4 L277.8,2037.8 L278.3,2042.1 L278.5,2045.1 L278.8,2050.7 L279.3,2066.9 L279.4,2070.6 L279.8,2080.5 L280.3,2092.8 L280.4,2096.2 L280.8,2103.6 L281.3,2112.9 L281.4,2115.3 L281.8,2119.4 L282.3,2124.8 L282.7,2127.1 L282.8,2127.4 L283.3,2126.8 L283.8,2125.7 L284.3,2124.3 L284.3,2124.3 L284.8,2121.3 L285.3,2117.1 L285.5,2115.4 L285.8,2113.9 L286.3,2111.1 L286.8,2109.1 L286.8,2109.0 L287.3,2107.8 L287.8,2107.1 L287.8,2107.0 L288.3,2107.5 L288.8,2109.0 L289.1,2110.2 L289.3,2110.9 L289.8,2114.1 L290.3,2117.6 L290.6,2119.2 L290.8,2119.6 L291.3,2120.9 L291.8,2122.1 L292.3,2122.9 L292.6,2123.0 L292.8,2122.4 L293.3,2120.6 L293.8,2118.0 L294.2,2115.3 L294.3,2114.9 L294.8,2110.4 L295.3,2104.8 L295.5,2102.6 L295.8,2099.4 L296.3,2093.6 L296.8,2089.9 L296.8,2089.8 L297.3,2088.0 L297.8,2087.1 L297.8,2086.9 L298.3,2088.4 L298.8,2091.3 L298.9,2092.4 L299.3,2095.7 L299.8,2103.1 L300.2,2109.0 L300.3,2109.6 L300.8,2114.7 L301.3,2119.3 L301.8,2122.6 L301.9,2123.0 L302.3,2124.6 L302.8,2126.2 L303.3,2127.5 L303.8,2128.6 L304.0,2129.1 L304.3,2129.4 L304.8,2130.1 L305.3,2130.7 L305.8,2131.1 L306.3,2131.4 L306.8,2131.6 L307.2,2131.7 L307.3,2131.8 L307.8,2131.8 L308.3,2131.6 L308.8,2131.4 L309.3,2131.1 L309.8,2130.8 L310.3,2130.5 L310.4,2130.3 L310.8,2130.2 L311.3,2129.9 L311.8,2129.7 L312.3,2129.8 L312.3,2130.1 L312.8,2130.2 L313.3,2130.8 L313.8,2131.5 L314.3,2132.0 L314.3,2131.9 L314.8,2131.4 L315.3,2130.7 L315.8,2129.9 L316.2,2129.3 L316.3,2129.2 L316.8,2128.4 L317.3,2127.4 L317.8,2126.2 L318.3,2125.1 L318.7,2124.1 L318.8,2124.0 L319.3,2123.1 L319.8,2122.3 L320.3,2121.4 L320.8,2120.4 L321.3,2119.4 L321.8,2118.1 L321.9,2117.8 L322.3,2116.8 L322.8,2115.1 L323.3,2113.1 L323.8,2110.6 L323.8,2110.3 L324.3,2107.3 L324.8,2102.9 L325.3,2097.3 L325.4,2096.2 L325.8,2090.0 L326.3,2079.7 L326.4,2077.0 L326.8,2064.8 L327.3,2045.3 L327.3,2045.1 L327.8,2025.4 L328.0,2013.2 L328.3,2001.2 L328.8,1971.7 L328.9,1962.1 L329.3,1942.5 L329.8,1914.1 L329.8,1911.1 L330.3,1886.5 L330.6,1875.3 L330.8,1873.0 L331.2,1869.8 L331.3,1869.9 L331.8,1876.7 L332.1,1885.5 L332.3,1890.8 L332.8,1921.3 L333.0,1936.6 L333.3,1950.0 L333.8,1975.4 L334.0,1987.7 L334.3,1997.1 L334.8,2015.8 L335.1,2026.0 L335.3,2033.0 L335.8,2049.1 L336.1,2057.9 L336.3,2062.8 L336.8,2075.1 L337.2,2083.4 L337.3,2083.9 L337.8,2089.5 L338.3,2093.6 L338.5,2094.9 L338.8,2096.1 L339.3,2098.1 L339.8,2099.4 L340.2,2099.9 L340.3,2100.0 L340.8,2099.2 L341.3,2097.7 L341.8,2095.7 L342.0,2094.9 L342.3,2092.9 L342.8,2088.2 L343.2,2083.4 L343.3,2083.1 L343.8,2077.8 L344.3,2072.6 L344.5,2070.6 L344.8,2068.6 L345.3,2065.0 L345.8,2062.9 L345.8,2063.0 L346.3,2063.9 L346.8,2065.6 L347.1,2066.8 L347.3,2068.1 L347.8,2073.4 L348.3,2079.0 L348.3,2079.6 L348.8,2083.5 L349.3,2088.0 L349.8,2090.9 L350.0,2091.3 L350.3,2091.1 L350.8,2090.5 L351.3,2089.3 L351.8,2087.7 L351.9,2087.3 L352.3,2085.6 L352.8,2082.0 L353.3,2077.1 L353.8,2071.4 L353.8,2070.6 L354.3,2063.8 L354.8,2053.3 L355.1,2045.1 L355.3,2040.6 L355.8,2024.0 L356.3,2004.8 L356.4,2000.4 L356.8,1983.9 L357.3,1961.4 L357.4,1955.7 L357.8,1939.7 L358.3,1921.9 L358.3,1921.3 L358.8,1912.1 L359.2,1908.4 L359.3,1908.6 L359.8,1911.9 L360.2,1917.4 L360.3,1918.4 L360.8,1932.7 L361.2,1949.4 L361.3,1950.6 L361.8,1967.3 L362.3,1984.1 L362.4,1987.7 L362.8,1999.8 L363.3,2014.9 L363.7,2026.0 L363.8,2029.0 L364.3,2042.0 L364.8,2054.1 L364.9,2057.9 L365.3,2065.2 L365.8,2075.6 L366.2,2083.4 L366.3,2084.3 L366.8,2092.1 L367.3,2098.3 L367.5,2100.0 L367.8,2101.7 L368.3,2103.9 L368.8,2105.6 L369.2,2106.7 L369.3,2106.9 L369.8,2108.1 L370.3,2109.1 L370.8,2109.8 L371.1,2110.0 L371.3,2110.0 L371.8,2110.0 L372.3,2110.1 L372.8,2110.3 L373.0,2110.3 L373.3,2110.9 L373.8,2113.1 L374.3,2115.3 L374.3,2115.3 L374.8,2117.0 L375.3,2118.6 L375.8,2119.9 L376.2,2120.7 L376.3,2120.9 L376.8,2121.6 L377.3,2122.1 L377.8,2122.4 L378.1,2122.4 L378.3,2122.3 L378.8,2122.7 L379.3,2123.0 L379.7,2123.2 L379.8,2123.0 L380.0,2122.6 L380.3,2122.6 L380.8,2122.7 L381.3,2123.0 L381.8,2123.4 L382.3,2123.9 L382.8,2124.3 L383.3,2124.5 L383.8,2124.5 L384.1,2124.2 L384.3,2124.0 L384.8,2123.9 L385.3,2123.6 L385.8,2123.1 L386.3,2122.5 L386.8,2121.9 L387.3,2121.4 L387.8,2121.1 L388.3,2121.0 L388.3,2120.7 L388.8,2120.6 L389.3,2120.8 L389.8,2121.4 L390.3,2122.2 L390.8,2123.1 L391.3,2124.0 L391.8,2124.8 L392.3,2125.6 L392.4,2125.7 L392.8,2125.9 L393.3,2126.2 L393.8,2126.4 L394.3,2126.5 L394.8,2126.5 L395.3,2126.5 L395.8,2126.5 L396.3,2126.6 L396.5,2126.6 L396.8,2126.6 L397.3,2126.3 L397.8,2125.9 L398.3,2125.3 L398.8,2124.7 L399.3,2124.1 L399.8,2123.5 L400.3,2123.0 L400.7,2122.5 L400.8,2122.3 L401.3,2122.1 L401.8,2122.1 L402.3,2122.1 L402.8,2122.2 L403.3,2122.2 L403.8,2122.3 L404.3,2122.4 L404.8,2122.5 L405.3,2122.6 L405.8,2122.7 L405.9,2122.6 L406.3,2122.5 L406.8,2122.2 L407.3,2121.9 L407.8,2121.6 L408.3,2121.3 L408.8,2121.0 L409.3,2120.8 L409.8,2120.5 L410.3,2120.2 L410.8,2119.9 L411.0,2119.7 L411.3,2119.4 L411.8,2118.8 L412.3,2118.1 L412.8,2117.6 L413.3,2117.2 L413.8,2117.0 L414.3,2116.9 L414.8,2116.8 L415.2,2116.7 L415.3,2116.7 L415.8,2116.0 L416.3,2115.2 L416.8,2114.3 L417.3,2113.4 L417.8,2112.6 L418.3,2112.1 L418.8,2111.7 L419.3,2111.6 L419.3,2111.4 L419.8,2111.4 L420.3,2111.7 L420.8,2112.2 L421.3,2112.7 L421.8,2112.9 L422.3,2112.8 L422.4,2113.1 L422.8,2113.6 L423.3,2113.2 L423.8,2111.9 L424.3,2110.3 L424.8,2108.6 L425.3,2106.9 L425.8,2105.6 L426.3,2104.9 L426.7,2104.9 L426.8,2104.8 L427.3,2104.7 L427.8,2105.2 L428.3,2106.0 L428.8,2107.2 L429.3,2108.4 L429.8,2109.6 L430.3,2110.8 L430.7,2111.5 L430.8,2111.5 L431.3,2112.3 L431.8,2113.0 L432.3,2113.8 L432.8,2114.7 L433.3,2115.4 L433.8,2116.2 L434.3,2116.9 L434.8,2117.7 L434.8,2117.8 L435.3,2118.4 L435.8,2119.0 L436.3,2119.5 L436.8,2120.0 L437.3,2120.5 L437.8,2120.9 L437.9,2121.1 L438.3,2121.3 L438.8,2121.6 L439.3,2121.9 L439.8,2122.3 L440.3,2122.7 L440.8,2122.9 L441.3,2123.1 L441.8,2123.1 L442.0,2123.1 L442.3,2123.0 L442.8,2122.9 L443.3,2122.8 L443.8,2122.8 L444.3,2122.8 L444.8,2122.9 L445.3,2122.8 L445.8,2122.7 L446.2,2122.6 L446.3,2122.5 L446.8,2122.4 L447.3,2122.2 L447.8,2122.1 L448.3,2121.9 L448.8,2121.8 L449.3,2121.8 L449.8,2121.8 L450.3,2121.9 L450.8,2122.2 L451.3,2122.6 L451.8,2123.0 L452.3,2123.3 L452.4,2123.2 L452.8,2122.9 L453.3,2122.7 L453.8,2122.7 L454.3,2122.8 L454.8,2123.0 L455.3,2123.0 L455.8,2122.9 L456.3,2122.7 L456.5,2122.5 L456.8,2122.3 L457.3,2122.1 L457.8,2121.6 L458.3,2121.2 L458.8,2120.6 L459.3,2120.1 L459.8,2119.4 L460.3,2118.7 L460.7,2118.2 L460.8,2118.1 L461.3,2117.5 L461.8,2116.8 L462.3,2115.9 L462.8,2115.1 L463.3,2114.3 L463.8,2113.8 L463.8,2113.8 L464.3,2113.5 L464.8,2113.1 L465.3,2112.8 L465.8,2112.4 L466.3,2112.1 L466.8,2111.9 L467.3,2111.8 L467.8,2111.9 L467.9,2112.0 L468.3,2112.1 L468.8,2112.1 L469.3,2112.1 L469.8,2112.1 L470.3,2112.2 L470.8,2112.4 L471.0,2112.6 L471.3,2113.2 L471.8,2114.3 L472.3,2115.5 L472.8,2116.6 L473.3,2117.7 L473.8,2118.5 L474.1,2118.7 L474.3,2118.7 L474.8,2118.9 L475.3,2119.1 L475.8,2119.1 L476.3,2119.1 L476.8,2119.0 L476.8,2119.0 L477.3,2118.9 L477.8,2117.9 L478.3,2116.5 L478.8,2115.4 L479.3,2115.2 L479.3,2115.4 L479.8,2115.5 L480.3,2115.8 L480.8,2116.1 L481.3,2116.3 L481.8,2116.5 L482.3,2116.7 L482.8,2116.9 L483.3,2117.1 L483.4,2117.2 L483.8,2117.3 L484.3,2117.2 L484.8,2117.1 L485.3,2117.0 L485.8,2117.0 L486.3,2117.0 L486.8,2117.1 L487.3,2117.0 L487.5,2116.8 L487.8,2116.4 L488.3,2115.7 L488.8,2114.9 L489.3,2114.0 L489.8,2113.1 L490.3,2112.1 L490.8,2111.1 L491.3,2110.1 L491.7,2109.4 L491.8,2109.3 L492.3,2108.3 L492.8,2107.4 L493.3,2106.3 L493.8,2105.1 L494.3,2103.7 L494.8,2102.2 L495.3,2100.5 L495.4,2100.0 L495.8,2098.1 L496.3,2094.5 L496.8,2090.1 L497.3,2085.4 L497.5,2083.4 L497.8,2080.4 L498.3,2074.7 L498.8,2068.5 L499.3,2062.0 L499.5,2058.6 L499.8,2055.6 L500.3,2048.7 L500.8,2041.6 L501.3,2034.7 L501.8,2028.3 L502.0,2025.5 L502.3,2022.8 L502.8,2017.3 L503.3,2012.3 L503.8,2008.5 L504.1,2007.0 L504.3,2006.3 L504.8,2004.9 L505.1,2004.5 L505.3,2004.5 L505.8,2006.2 L506.3,2009.1 L506.6,2011.0 L506.8,2012.4 L507.3,2017.3 L507.8,2023.2 L508.3,2029.5 L508.6,2033.8 L508.8,2035.2 L509.3,2040.7 L509.8,2046.2 L510.3,2051.7 L510.8,2057.0 L511.3,2062.1 L511.3,2062.7 L511.8,2067.1 L512.3,2072.0 L512.8,2076.8 L513.3,2081.4 L513.8,2085.6 L514.0,2087.5 L514.3,2089.5 L514.8,2093.3 L515.3,2096.9 L515.8,2100.2 L516.3,2103.0 L516.5,2104.1 L516.8,2105.3 L517.3,2107.4 L517.8,2109.3 L518.3,2111.1 L518.8,2112.7 L519.3,2114.2 L519.8,2115.6 L520.3,2116.7 L520.6,2117.5 L520.8,2117.8 L521.3,2118.8 L521.8,2119.9 L522.3,2120.9 L522.8,2121.8 L523.3,2122.6 L523.8,2123.2 L524.3,2123.5 L524.8,2123.4 L524.8,2123.0 L525.3,2122.8 L525.8,2122.6 L526.3,2122.4 L526.8,2122.3 L527.3,2122.1 L527.8,2121.8 L528.3,2121.5 L528.8,2121.2 L528.9,2121.1 L529.3,2121.0 L529.8,2120.7 L530.0,2120.4 L530.3,2119.9 L530.8,2119.4 L531.3,2119.0 L531.8,2118.6 L532.3,2118.2 L532.8,2117.9 L533.3,2117.6 L533.8,2117.3 L534.3,2117.0 L534.8,2116.6 L535.0,2116.5 L535.3,2116.1 L535.8,2115.3 L536.3,2114.4 L536.8,2113.5 L537.3,2112.5 L537.8,2111.5 L538.3,2110.4 L538.8,2109.3 L539.3,2108.1 L539.8,2106.8 L539.9,2106.4 L540.3,2105.5 L540.8,2104.2 L541.3,2102.8 L541.8,2101.4 L542.3,2099.9 L542.8,2098.3 L543.3,2096.6 L543.7,2095.2 L543.8,2094.8 L544.3,2093.1 L544.8,2091.4 L545.3,2089.6 L545.8,2087.6 L546.3,2085.2 L546.8,2082.3 L546.9,2081.6 L547.3,2078.2 L547.8,2072.1 L548.3,2064.7 L548.6,2059.3 L548.8,2056.6 L549.3,2046.6 L549.8,2035.4 L550.3,2023.8 L550.4,2022.1 L550.8,2012.8 L551.3,2001.7 L551.8,1989.2 L551.8,1987.3 L552.3,1973.4 L552.6,1960.0 L552.8,1955.1 L553.2,1939.1 L553.3,1935.7 L553.8,1917.9 L553.8,1916.7 L554.3,1902.3 L554.5,1894.3 L554.8,1885.3 L555.2,1872.0 L555.3,1868.5 L555.8,1856.5 L556.0,1849.6 L556.3,1842.5 L556.8,1827.2 L556.8,1826.9 L557.3,1815.6 L557.8,1806.0 L557.8,1804.8 L558.3,1797.0 L558.8,1788.7 L559.2,1782.4 L559.3,1781.0 L559.8,1773.8 L559.8,1773.4 L560.3,1770.4 L560.3,1770.4 L560.8,1773.3 L560.8,1773.4 L561.3,1780.1 L561.4,1782.4 L561.8,1787.9 L562.3,1796.1 L562.8,1804.8 L562.8,1805.0 L563.3,1815.0 L563.8,1825.8 L563.8,1827.2 L564.3,1836.8 L564.8,1848.4 L564.8,1849.6 L565.3,1860.5 L565.7,1872.0 L565.8,1873.4 L566.3,1887.4 L566.5,1894.3 L566.8,1900.6 L567.3,1912.8 L567.4,1916.7 L567.8,1927.5 L568.1,1939.1 L568.3,1943.1 L568.8,1957.5 L568.9,1960.0 L569.3,1974.8 L569.8,1992.3 L570.0,1997.2 L570.3,2004.0 L570.8,2013.1 L571.3,2020.9 L571.8,2028.1 L572.2,2034.5 L572.3,2035.7 L572.8,2043.8 L573.3,2051.9 L573.8,2059.7 L574.3,2066.8 L574.7,2071.7 L574.8,2072.8 L575.3,2078.1 L575.8,2082.9 L576.3,2087.2 L576.8,2091.2 L577.2,2094.0 L577.3,2094.9 L577.8,2098.6 L578.3,2102.3 L578.8,2105.8 L579.3,2108.8 L579.8,2111.1 L580.3,2112.5 L580.4,2112.6 L580.8,2112.9 L581.3,2113.2 L581.8,2113.4 L582.3,2113.5 L582.8,2113.6 L583.3,2113.7 L583.8,2114.0 L584.3,2114.4 L584.6,2114.7 L584.8,2114.9 L585.3,2115.2 L585.8,2115.4 L586.3,2115.5 L586.8,2115.7 L587.3,2116.0 L587.8,2116.3 L588.3,2116.7 L588.8,2117.0 L589.3,2117.4 L589.6,2117.6 L589.8,2117.8 L590.3,2118.3 L590.8,2118.9 L591.3,2119.5 L591.8,2120.0 L592.3,2120.5 L592.8,2120.7 L593.3,2120.8 L593.3,2120.7 L593.8,2120.4 L594.3,2119.6 L594.8,2118.7 L595.3,2117.9 L595.8,2117.6 L595.8,2117.6 L596.3,2117.8 L596.8,2118.5 L597.3,2119.4 L597.8,2120.3 L598.3,2121.1 L598.8,2121.7 L599.0,2122.0 L599.3,2122.1 L599.8,2121.9 L600.3,2121.4 L600.8,2120.8 L601.3,2120.0 L601.8,2119.3 L602.3,2118.6 L602.8,2118.2 L603.2,2118.2 L603.3,2118.3 L603.8,2118.0 L604.3,2117.7 L604.8,2117.3 L605.3,2117.1 L605.8,2116.9 L606.3,2116.7 L606.8,2116.6 L607.3,2116.5 L607.8,2116.4 L608.2,2116.2 L608.3,2115.9 L608.8,2115.9 L609.3,2116.3 L609.8,2117.0 L610.3,2117.8 L610.8,2118.5 L611.3,2118.9 L611.8,2119.0 L611.9,2118.7 L612.3,2118.3 L612.8,2117.7 L613.3,2117.0 L613.8,2116.3 L614.3,2115.5 L614.8,2114.9 L615.3,2114.6 L615.6,2114.6 L615.8,2114.6 L616.3,2115.0 L616.8,2115.8 L617.3,2116.7 L617.8,2117.3 L618.1,2117.3 L618.3,2117.2 L618.8,2116.9 L619.3,2116.6 L619.8,2116.2 L620.3,2115.7 L620.8,2115.1 L621.3,2114.5 L621.8,2113.8 L621.8,2113.8 L622.3,2112.8 L622.8,2111.0 L623.3,2109.1 L623.8,2107.7 L623.8,2107.7 L624.3,2107.0 L624.8,2106.4 L625.3,2105.8 L625.8,2105.2 L626.3,2104.6 L626.8,2104.2 L627.3,2103.8 L627.8,2103.2 L628.0,2102.9 L628.3,2102.5 L628.8,2101.6 L629.3,2100.5 L629.8,2099.4 L630.3,2098.1 L630.8,2096.8 L631.3,2095.4 L631.8,2093.9 L631.8,2093.8 L632.3,2092.0 L632.8,2089.9 L633.3,2087.4 L633.8,2084.5 L634.2,2081.6 L634.3,2081.4 L634.8,2078.0 L635.3,2074.2 L635.8,2069.9 L636.3,2064.7 L636.7,2059.3 L636.8,2058.6 L637.3,2049.9 L637.8,2038.6 L638.3,2026.5 L638.5,2022.1 L638.8,2014.6 L639.3,2001.8 L639.8,1989.1 L640.0,1984.8 L640.3,1977.7 L640.8,1967.4 L641.3,1954.9 L641.3,1954.7 L641.8,1935.7 L642.1,1922.4 L642.3,1915.0 L642.8,1895.0 L642.9,1890.2 L643.3,1875.0 L643.7,1857.9 L643.8,1855.0 L644.3,1835.0 L644.5,1825.7 L644.8,1815.0 L645.3,1795.0 L645.3,1793.5 L645.8,1775.0 L646.1,1761.2 L646.3,1754.9 L646.8,1734.6 L646.9,1729.0 L647.3,1716.5 L647.8,1700.2 L647.9,1696.7 L648.3,1686.2 L648.8,1673.8 L649.2,1664.5 L649.3,1662.4 L649.8,1652.0 L650.3,1642.2 L650.8,1632.6 L650.8,1632.2 L651.3,1622.4 L651.6,1616.9 L651.8,1614.4 L652.1,1612.0 L652.3,1612.9 L652.6,1616.9 L652.8,1619.7 L653.3,1627.6 L653.5,1632.2 L653.8,1636.9 L654.3,1647.8 L654.8,1659.5 L655.0,1664.5 L655.3,1671.4 L655.8,1683.7 L656.3,1696.7 L656.3,1696.7 L656.8,1710.4 L657.3,1725.0 L657.4,1729.0 L657.8,1741.0 L658.3,1758.0 L658.4,1761.2 L658.8,1774.7 L659.3,1791.4 L659.3,1793.5 L659.8,1808.3 L660.3,1824.8 L660.3,1825.7 L660.8,1839.5 L661.3,1853.4 L661.4,1857.9 L661.8,1867.7 L662.3,1882.0 L662.6,1890.2 L662.8,1896.3 L663.3,1910.5 L663.7,1922.4 L663.8,1924.8 L664.3,1938.7 L664.8,1953.3 L664.8,1954.7 L665.3,1971.5 L665.8,1990.4 L666.0,1997.2 L666.3,2003.0 L666.8,2012.5 L667.3,2020.5 L667.8,2027.7 L668.2,2034.5 L668.3,2034.9 L668.8,2042.2 L669.3,2049.3 L669.8,2056.1 L670.3,2062.1 L670.7,2066.7 L670.8,2067.1 L671.3,2071.5 L671.8,2075.5 L672.3,2079.2 L672.8,2082.6 L673.3,2085.6 L673.8,2088.2 L674.0,2089.1 L674.3,2090.5 L674.8,2092.5 L675.3,2094.3 L675.8,2095.9 L676.3,2097.3 L676.8,2098.8 L677.3,2100.2 L677.7,2101.4 L677.8,2101.7 L678.3,2103.2 L678.8,2104.7 L679.3,2106.3 L679.8,2107.9 L680.3,2109.5 L680.8,2111.1 L680.9,2111.5 L681.3,2112.9 L681.8,2115.3 L682.3,2117.2 L682.6,2117.9 L682.8,2118.0 L683.3,2118.1 L683.8,2118.2 L684.3,2118.1 L684.8,2118.0 L685.3,2117.8 L685.8,2117.4 L686.3,2117.0 L686.8,2116.8 L687.3,2116.6 L687.8,2116.6 L688.3,2116.6 L688.8,2116.6 L688.8,2116.7 L689.3,2117.1 L689.8,2117.5 L690.3,2118.1 L690.8,2118.6 L691.3,2119.2 L691.8,2119.6 L692.3,2119.7 L692.6,2119.6 L692.8,2119.3 L693.3,2119.0 L693.8,2118.5 L694.3,2118.1 L694.8,2117.8 L695.3,2117.5 L695.8,2117.1 L696.3,2116.7 L696.8,2116.4 L697.3,2116.1 L697.8,2116.0 L698.3,2115.8 L698.8,2115.7 L698.8,2115.8 L699.3,2115.8 L699.8,2115.8 L700.3,2115.8 L700.8,2115.8 L701.3,2115.7 L701.8,2115.6 L702.3,2115.4 L702.8,2115.2 L703.3,2115.0 L703.7,2114.8 L703.8,2114.8 L704.3,2114.7 L704.8,2114.5 L705.3,2114.2 L705.8,2113.8 L706.3,2113.3 L706.8,2113.0 L707.3,2112.6 L707.8,2112.2 L708.3,2111.8 L708.7,2111.5 L708.8,2111.2 L709.3,2111.4 L709.8,2111.9 L710.3,2112.6 L710.8,2113.5 L711.3,2114.3 L711.8,2115.1 L712.3,2115.7 L712.8,2116.3 L713.3,2116.7 L713.7,2117.0 L713.8,2117.4 L714.3,2117.5 L714.8,2117.3 L715.3,2116.8 L715.8,2116.2 L716.3,2115.6 L716.8,2114.9 L717.3,2114.3 L717.8,2113.8 L718.3,2113.3 L718.6,2113.1 L718.8,2113.0 L719.3,2113.0 L719.8,2113.3 L720.3,2113.6 L720.8,2114.0 L721.3,2114.4 L721.8,2114.9 L722.3,2115.5 L722.8,2116.1 L723.3,2116.6 L723.8,2116.8 L724.3,2116.9 L724.8,2116.9 L724.8,2116.8 L725.3,2116.7 L725.8,2116.5 L726.3,2116.3 L726.8,2116.1 L727.3,2115.7 L727.8,2115.3 L728.3,2114.8 L728.8,2114.4 L729.3,2114.1 L729.8,2114.1 L730.3,2114.0 L730.8,2113.9 L731.0,2113.7 L731.3,2113.4 L731.8,2113.0 L732.3,2112.9 L732.8,2113.1 L733.3,2113.5 L733.8,2114.1 L734.3,2114.6 L734.8,2115.1 L735.3,2115.4 L735.8,2115.5 L736.3,2115.5 L736.8,2115.5 L737.3,2115.6 L737.8,2115.6 L738.3,2115.8 L738.5,2116.0 L738.8,2116.3 L739.3,2116.5 L739.8,2116.5 L740.3,2116.3 L740.8,2116.1 L741.3,2116.0 L741.8,2115.9 L742.3,2115.9 L742.8,2116.0 L743.3,2116.1 L743.8,2116.2 L744.3,2116.2 L744.8,2116.1 L745.3,2115.9 L745.8,2115.7 L745.9,2115.6 L746.3,2115.5 L746.8,2115.4 L747.3,2115.3 L747.8,2115.0 L748.3,2114.7 L748.8,2114.3 L749.3,2113.9 L749.8,2113.4 L750.3,2112.9 L750.8,2112.3 L751.3,2111.8 L751.8,2111.3 L752.3,2110.9 L752.8,2110.5 L753.3,2110.2 L753.8,2110.0 L754.3,2109.9 L754.6,2110.1 L754.8,2110.5 L755.3,2110.9 L755.8,2111.3 L756.3,2111.7 L756.8,2112.0 L757.3,2112.4 L757.8,2112.7 L758.3,2113.0 L758.8,2113.4 L759.3,2113.7 L759.8,2114.0 L760.3,2114.4 L760.8,2114.8 L760.8,2115.1 L761.3,2115.3 L761.8,2115.5 L762.3,2115.6 L762.8,2115.6 L763.3,2115.4 L763.8,2115.3 L764.3,2115.3 L764.8,2115.3 L765.3,2115.4 L765.8,2115.4 L765.8,2115.4 L766.2,2115.1 L766.3,2115.2 L766.8,2115.1 L767.3,2114.9 L767.8,2114.7 L768.3,2114.4 L768.8,2114.2 L769.3,2114.1 L769.8,2113.9 L770.3,2113.8 L770.3,2113.7 L770.8,2113.7 L771.3,2113.7 L771.8,2113.8 L772.3,2114.0 L772.8,2114.0 L773.3,2113.9 L773.8,2113.8 L774.3,2113.7 L774.8,2113.7 L775.3,2113.8 L775.8,2114.0 L776.3,2114.2 L776.8,2114.4 L777.3,2114.5 L777.8,2114.4 L778.3,2114.2 L778.8,2114.0 L779.3,2113.8 L779.8,2113.7 L780.3,2113.6 L780.7,2113.6 L780.8,2113.8 L781.3,2114.2 L781.8,2114.7 L782.3,2115.1 L782.8,2115.2 L783.3,2115.4 L783.8,2115.6 L784.3,2115.9 L784.8,2116.4 L785.3,2116.8 L785.8,2117.1 L786.3,2117.1 L786.8,2117.0 L787.3,2116.7 L787.8,2116.6 L788.3,2116.6 L788.8,2116.7 L789.0,2116.9 L789.3,2117.1 L789.8,2117.2 L790.3,2117.4 L790.8,2117.6 L791.3,2117.7 L791.8,2117.8 L792.3,2118.0 L792.8,2118.3 L793.3,2118.5 L793.8,2118.5 L794.3,2118.4 L794.8,2118.2 L795.2,2118.1 L795.3,2118.0 L795.8,2117.7 L796.3,2117.2 L796.8,2116.6 L797.3,2115.8 L797.8,2115.1 L798.3,2114.4 L798.8,2113.8 L799.3,2113.4 L799.8,2113.1 L800.3,2112.8 L800.7,2112.6 L800.8,2112.4 L801.3,2112.2 L801.8,2112.3 L802.3,2112.6 L802.8,2113.1 L803.3,2113.6 L803.8,2114.1 L804.3,2114.6 L804.8,2115.0 L805.3,2115.5 L805.8,2115.8 L806.3,2116.1 L806.8,2116.2 L807.3,2116.2 L807.6,2116.2 L807.8,2116.2 L808.3,2116.2 L808.8,2116.2 L809.3,2116.1 L809.8,2116.0 L810.3,2115.9 L810.8,2115.8 L811.3,2115.7 L811.8,2115.6 L812.3,2115.4 L812.8,2115.1 L813.3,2114.8 L813.8,2114.5 L814.3,2114.4 L814.8,2114.3 L815.3,2114.3 L815.8,2114.6 L815.8,2114.9 L816.3,2115.2 L816.8,2115.4 L817.3,2115.5 L817.8,2115.7 L818.3,2115.8 L818.8,2116.1 L819.3,2116.4 L819.8,2116.8 L820.3,2117.3 L820.8,2117.7 L821.0,2117.8 L821.3,2117.8 L821.8,2117.4 L822.3,2116.9 L822.8,2116.2 L823.3,2115.5 L823.8,2114.8 L824.3,2114.2 L824.8,2113.6 L825.3,2113.1 L825.8,2112.6 L826.2,2112.3 L826.3,2112.1 L826.8,2112.0 L827.3,2112.1 L827.8,2112.2 L828.3,2112.4 L828.8,2112.6 L829.3,2112.8 L829.8,2113.1 L830.3,2113.2 L830.8,2113.2 L831.3,2113.0 L831.8,2112.7 L832.3,2112.4 L832.4,2112.2 L832.8,2112.4 L833.3,2112.6 L833.8,2112.8 L834.3,2112.8 L834.8,2112.7 L835.3,2112.4 L835.8,2112.0 L836.3,2111.5 L836.8,2111.0 L837.3,2110.5 L837.8,2110.0 L838.3,2109.6 L838.8,2109.2 L839.3,2108.7 L839.6,2108.3 L839.8,2108.2 L840.3,2107.4 L840.8,2106.5 L841.3,2105.4 L841.8,2104.2 L842.3,2103.0 L842.8,2101.9 L843.3,2101.0 L843.8,2100.2 L843.8,2100.2 L844.3,2099.4 L844.8,2098.6 L845.3,2098.0 L845.8,2097.4 L846.3,2096.9 L846.8,2096.4 L847.3,2095.9 L847.8,2095.3 L848.3,2094.5 L848.8,2093.5 L848.9,2093.1 L849.3,2092.1 L849.8,2090.5 L850.3,2088.7 L850.8,2086.7 L851.3,2084.6 L851.8,2082.4 L852.0,2081.3 L852.3,2080.3 L852.8,2077.7 L853.3,2074.8 L853.8,2071.8 L854.3,2069.1 L854.8,2066.8 L855.3,2065.1 L855.6,2064.6 L855.8,2064.4 L856.3,2063.9 L856.8,2063.4 L857.3,2063.0 L857.8,2062.7 L858.3,2062.5 L858.8,2062.4 L859.3,2062.4 L859.3,2062.5 L859.8,2062.7 L860.3,2062.9 L860.8,2063.1 L861.3,2063.2 L861.8,2063.4 L862.3,2063.6 L862.4,2063.7 L862.8,2064.3 L863.3,2065.7 L863.8,2067.5 L864.3,2069.5 L864.8,2071.6 L865.3,2073.5 L865.5,2074.2 L865.8,2075.0 L866.3,2076.5 L866.8,2077.8 L867.3,2079.1 L867.8,2080.4 L868.3,2081.6 L868.8,2082.9 L869.3,2084.3 L869.6,2085.3 L869.8,2085.8 L870.3,2087.4 L870.8,2089.1 L871.3,2090.9 L871.8,2092.6 L872.3,2094.3 L872.7,2095.7 L872.8,2095.9 L873.3,2097.6 L873.8,2099.4 L874.3,2100.9 L874.8,2101.9 L874.8,2102.1 L875.3,2102.8 L875.8,2103.4 L876.3,2103.9 L876.8,2104.2 L877.3,2104.4 L877.8,2104.5 L878.3,2104.6 L878.8,2104.6 L878.9,2104.7 L879.3,2104.6 L879.8,2104.4 L880.3,2104.1 L880.8,2103.9 L881.3,2103.7 L881.8,2103.5 L882.0,2103.6 L882.3,2103.8 L882.8,2104.3 L883.3,2105.0 L883.8,2105.7 L884.3,2106.6 L884.8,2107.5 L885.3,2108.5 L885.8,2109.5 L886.2,2110.2 L886.3,2110.5 L886.8,2111.7 L887.3,2113.3 L887.8,2114.9 L888.3,2116.6 L888.8,2118.1 L889.3,2119.4 L889.8,2120.3 L890.3,2120.7 L890.3,2120.8 L890.8,2120.6 L891.3,2120.0 L891.8,2119.1 L892.3,2118.2 L892.8,2117.3 L893.3,2116.5 L893.8,2115.8 L894.3,2115.6 L894.4,2115.7 L894.8,2116.1 L895.3,2116.6 L895.8,2117.1 L896.3,2117.6 L896.8,2118.0 L897.3,2118.4 L897.8,2118.7 L898.3,2118.9 L898.6,2119.0 L898.8,2119.0 L899.3,2119.0 L899.8,2119.0 L900.3,2118.8 L900.8,2118.6 L901.3,2118.4 L901.8,2118.3 L902.3,2118.1 L902.8,2118.0 L903.3,2118.0 L903.8,2118.0 L904.3,2118.0 L904.8,2118.0 L904.8,2118.0 L905.3,2117.9 L905.8,2117.6 L906.3,2117.3 L906.8,2116.9 L907.3,2116.5 L907.8,2116.3 L908.3,2116.3 L908.8,2116.3 L909.3,2116.4 L909.8,2116.3 L910.3,2116.2 L910.8,2116.1 L911.0,2116.1 L911.3,2116.1 L911.8,2116.2 L912.3,2116.3 L912.8,2116.6 L913.3,2117.0 L913.8,2117.6 L914.3,2118.2 L914.8,2118.8 L915.3,2119.4 L915.8,2119.7 L916.3,2119.8 L916.8,2119.7 L917.2,2119.3 L917.3,2118.9 L917.8,2118.6 L918.3,2118.2 L918.8,2117.7 L919.3,2117.1 L919.8,2116.6 L920.3,2116.3 L920.3,2116.3 L920.8,2116.4 L921.3,2116.8 L921.8,2117.2 L922.3,2117.5 L922.8,2118.0 L923.3,2118.5 L923.8,2119.2 L924.3,2119.8 L924.8,2120.4 L925.3,2120.8 L925.5,2120.9 L925.8,2120.9 L926.3,2120.4 L926.8,2119.7 L927.3,2119.0 L927.8,2118.3 L928.3,2117.8 L928.8,2117.4 L929.3,2117.3 L929.6,2117.3 L929.8,2117.3 L930.3,2117.3 L930.8,2117.2 L931.3,2117.1 L931.8,2117.0 L932.3,2117.0 L932.8,2117.1 L933.3,2117.2 L933.8,2117.4 L934.3,2117.5 L934.8,2117.5 L935.3,2117.5 L935.8,2117.3 L936.3,2117.2 L936.8,2117.1 L937.3,2117.3 L937.8,2117.7 L938.3,2118.2 L938.3,2118.4" fill="none" stroke="#000" stroke-width="2.85" stroke-linejoin="round" stroke-linecap="round"/>
<line x1="296.5" y1="1732.3" x2="288.8" y2="2073.8" stroke="#000" stroke-width="2.20"/>
<line x1="377.0" y1="1816.7" x2="346.2" y2="1906.5" stroke="#000" stroke-width="2.20"/>
<line x1="254.0" y1="1972.4" x2="256.9" y2="2073.4" stroke="#000" stroke-width="2.20"/>
<text transform="translate(174.7,1622.2) scale(1.085,1)" font-size="35.8px">(c)</text>
<text transform="translate(236.8,1714.0) scale(0.975,1)" font-size="29.3px" text-anchor="start"><tspan dy="0.00" font-size="29.3px">C</tspan><tspan dy="-15.80" font-size="17.4px">2+</tspan><tspan dy="15.80" font-size="29.3px">,N</tspan><tspan dy="-15.80" font-size="17.4px">2+</tspan><tspan dy="15.80" font-size="29.3px">,O</tspan><tspan dy="-15.80" font-size="17.4px">2+</tspan></text>
<text transform="translate(169.3,1809.3) scale(0.975,1)" font-size="29.3px" text-anchor="start"><tspan dy="0.00" font-size="29.3px">H</tspan><tspan dy="-15.80" font-size="17.4px">+</tspan></text>
<text transform="translate(334.6,1803.5) scale(0.975,1)" font-size="29.3px" text-anchor="start"><tspan dy="0.00" font-size="29.3px">C</tspan><tspan dy="-15.80" font-size="17.4px">+</tspan><tspan dy="15.80" font-size="29.3px">,N</tspan><tspan dy="-15.80" font-size="17.4px">+</tspan><tspan dy="15.80" font-size="29.3px">,O</tspan><tspan dy="-15.80" font-size="17.4px">+</tspan></text>
<text transform="translate(224.7,1957.4) scale(0.975,1)" font-size="29.3px" text-anchor="start"><tspan dy="0.00" font-size="29.3px">He</tspan><tspan dy="-15.80" font-size="17.4px">+</tspan></text>
<text transform="translate(210.9,2032.3) scale(0.975,1)" font-size="29.3px" text-anchor="start"><tspan dy="0.00" font-size="29.3px">H</tspan><tspan dy="11.80" font-size="17.4px">2</tspan><tspan dy="-27.60" font-size="17.4px">+</tspan></text>
<text transform="translate(407.8,2076.5) scale(0.975,1)" font-size="29.3px" text-anchor="start"><tspan dy="0.00" font-size="29.3px">N</tspan><tspan dy="11.80" font-size="17.4px">2</tspan><tspan dy="-27.60" font-size="17.4px">+</tspan></text>
<text transform="translate(484.0,1992.3) scale(0.925,1)" font-size="29.3px" text-anchor="start"><tspan dy="0.00" font-size="29.3px">W</tspan></text>
<text transform="translate(516.5,1992.3) scale(0.975,1)" font-size="29.3px" text-anchor="start"><tspan dy="-15.80" font-size="17.4px">4+</tspan></text>
<text transform="translate(548.0,1752.3) scale(0.925,1)" font-size="29.3px" text-anchor="start"><tspan dy="0.00" font-size="29.3px">W</tspan></text>
<text transform="translate(580.5,1752.3) scale(0.975,1)" font-size="29.3px" text-anchor="start"><tspan dy="-16.40" font-size="17.4px">3+</tspan></text>
<text transform="translate(613.8,1608.9) scale(0.925,1)" font-size="29.3px" text-anchor="start"><tspan dy="0.00" font-size="29.3px">W</tspan></text>
<text transform="translate(646.1,1608.9) scale(0.975,1)" font-size="29.3px" text-anchor="start"><tspan dy="-15.80" font-size="17.4px">2+</tspan></text>
<text transform="translate(844.7,2039.5) scale(0.925,1)" font-size="29.3px" text-anchor="start"><tspan dy="0.00" font-size="29.3px">W</tspan></text>
<text transform="translate(877.4,2039.5) scale(0.975,1)" font-size="29.3px" text-anchor="start"><tspan dy="-15.80" font-size="17.4px">+</tspan></text>
</g>
</svg>
</body></html>
